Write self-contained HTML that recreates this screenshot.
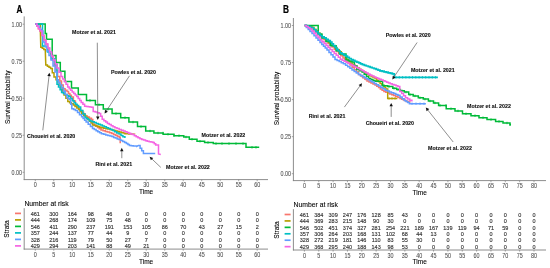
<!DOCTYPE html>
<html><head><meta charset="utf-8"><style>
html,body{margin:0;padding:0;background:#fff;width:550px;height:268px;overflow:hidden}
svg{display:block;font-family:"Liberation Sans", sans-serif;will-change:transform}
</style></head><body>
<svg width="550" height="268" viewBox="0 0 550 268">
<rect width="550" height="268" fill="#fff"/>
<text transform="translate(16.60,12.91) scale(0.92,1.12)" font-size="9.0" text-anchor="start" font-weight="bold" fill="#000" stroke="#000" stroke-width="0.2">A</text>
<line x1="24.20" y1="16.40" x2="24.20" y2="180.05" stroke="#808080" stroke-width="0.9"/>
<line x1="23.75" y1="179.60" x2="268.00" y2="179.60" stroke="#808080" stroke-width="0.9"/>
<line x1="22.60" y1="172.30" x2="24.20" y2="172.30" stroke="#808080" stroke-width="0.7"/>
<text transform="translate(21.90,174.68) scale(1.04,1.28)" font-size="5.2" text-anchor="end" font-weight="normal" fill="#4D4D4D" stroke="#4D4D4D" stroke-width="0.05">0.00</text>
<line x1="22.60" y1="135.28" x2="24.20" y2="135.28" stroke="#808080" stroke-width="0.7"/>
<text transform="translate(21.90,137.66) scale(1.04,1.28)" font-size="5.2" text-anchor="end" font-weight="normal" fill="#4D4D4D" stroke="#4D4D4D" stroke-width="0.05">0.25</text>
<line x1="22.60" y1="98.25" x2="24.20" y2="98.25" stroke="#808080" stroke-width="0.7"/>
<text transform="translate(21.90,100.63) scale(1.04,1.28)" font-size="5.2" text-anchor="end" font-weight="normal" fill="#4D4D4D" stroke="#4D4D4D" stroke-width="0.05">0.50</text>
<line x1="22.60" y1="61.23" x2="24.20" y2="61.23" stroke="#808080" stroke-width="0.7"/>
<text transform="translate(21.90,63.61) scale(1.04,1.28)" font-size="5.2" text-anchor="end" font-weight="normal" fill="#4D4D4D" stroke="#4D4D4D" stroke-width="0.05">0.75</text>
<line x1="22.60" y1="24.20" x2="24.20" y2="24.20" stroke="#808080" stroke-width="0.7"/>
<text transform="translate(21.90,26.58) scale(1.04,1.28)" font-size="5.2" text-anchor="end" font-weight="normal" fill="#4D4D4D" stroke="#4D4D4D" stroke-width="0.05">1.00</text>
<line x1="35.30" y1="179.60" x2="35.30" y2="181.20" stroke="#808080" stroke-width="0.7"/>
<text transform="translate(35.30,186.88) scale(1.04,1.28)" font-size="5.2" text-anchor="middle" font-weight="normal" fill="#4D4D4D" stroke="#4D4D4D" stroke-width="0.05">0</text>
<line x1="53.79" y1="179.60" x2="53.79" y2="181.20" stroke="#808080" stroke-width="0.7"/>
<text transform="translate(53.79,186.88) scale(1.04,1.28)" font-size="5.2" text-anchor="middle" font-weight="normal" fill="#4D4D4D" stroke="#4D4D4D" stroke-width="0.05">5</text>
<line x1="72.28" y1="179.60" x2="72.28" y2="181.20" stroke="#808080" stroke-width="0.7"/>
<text transform="translate(72.28,186.88) scale(1.04,1.28)" font-size="5.2" text-anchor="middle" font-weight="normal" fill="#4D4D4D" stroke="#4D4D4D" stroke-width="0.05">10</text>
<line x1="90.77" y1="179.60" x2="90.77" y2="181.20" stroke="#808080" stroke-width="0.7"/>
<text transform="translate(90.77,186.88) scale(1.04,1.28)" font-size="5.2" text-anchor="middle" font-weight="normal" fill="#4D4D4D" stroke="#4D4D4D" stroke-width="0.05">15</text>
<line x1="109.26" y1="179.60" x2="109.26" y2="181.20" stroke="#808080" stroke-width="0.7"/>
<text transform="translate(109.26,186.88) scale(1.04,1.28)" font-size="5.2" text-anchor="middle" font-weight="normal" fill="#4D4D4D" stroke="#4D4D4D" stroke-width="0.05">20</text>
<line x1="127.75" y1="179.60" x2="127.75" y2="181.20" stroke="#808080" stroke-width="0.7"/>
<text transform="translate(127.75,186.88) scale(1.04,1.28)" font-size="5.2" text-anchor="middle" font-weight="normal" fill="#4D4D4D" stroke="#4D4D4D" stroke-width="0.05">25</text>
<line x1="146.24" y1="179.60" x2="146.24" y2="181.20" stroke="#808080" stroke-width="0.7"/>
<text transform="translate(146.24,186.88) scale(1.04,1.28)" font-size="5.2" text-anchor="middle" font-weight="normal" fill="#4D4D4D" stroke="#4D4D4D" stroke-width="0.05">30</text>
<line x1="164.73" y1="179.60" x2="164.73" y2="181.20" stroke="#808080" stroke-width="0.7"/>
<text transform="translate(164.73,186.88) scale(1.04,1.28)" font-size="5.2" text-anchor="middle" font-weight="normal" fill="#4D4D4D" stroke="#4D4D4D" stroke-width="0.05">35</text>
<line x1="183.22" y1="179.60" x2="183.22" y2="181.20" stroke="#808080" stroke-width="0.7"/>
<text transform="translate(183.22,186.88) scale(1.04,1.28)" font-size="5.2" text-anchor="middle" font-weight="normal" fill="#4D4D4D" stroke="#4D4D4D" stroke-width="0.05">40</text>
<line x1="201.71" y1="179.60" x2="201.71" y2="181.20" stroke="#808080" stroke-width="0.7"/>
<text transform="translate(201.71,186.88) scale(1.04,1.28)" font-size="5.2" text-anchor="middle" font-weight="normal" fill="#4D4D4D" stroke="#4D4D4D" stroke-width="0.05">45</text>
<line x1="220.20" y1="179.60" x2="220.20" y2="181.20" stroke="#808080" stroke-width="0.7"/>
<text transform="translate(220.20,186.88) scale(1.04,1.28)" font-size="5.2" text-anchor="middle" font-weight="normal" fill="#4D4D4D" stroke="#4D4D4D" stroke-width="0.05">50</text>
<line x1="238.69" y1="179.60" x2="238.69" y2="181.20" stroke="#808080" stroke-width="0.7"/>
<text transform="translate(238.69,186.88) scale(1.04,1.28)" font-size="5.2" text-anchor="middle" font-weight="normal" fill="#4D4D4D" stroke="#4D4D4D" stroke-width="0.05">55</text>
<line x1="257.18" y1="179.60" x2="257.18" y2="181.20" stroke="#808080" stroke-width="0.7"/>
<text transform="translate(257.18,186.88) scale(1.04,1.28)" font-size="5.2" text-anchor="middle" font-weight="normal" fill="#4D4D4D" stroke="#4D4D4D" stroke-width="0.05">60</text>
<text transform="translate(146.10,194.16) scale(1.085,1.19)" font-size="6.0" text-anchor="middle" font-weight="normal" fill="#000" stroke="#000" stroke-width="0.08">Time</text>
<text transform="translate(9.86,97.30) rotate(-90) scale(1.06,1.19)" font-size="6.0" text-anchor="middle" font-weight="normal" fill="#000" stroke="#000" stroke-width="0.08">Survival probability</text>
<text transform="translate(24.40,205.59) scale(1.066,1.087)" font-size="6.4" text-anchor="start" font-weight="normal" fill="#000" stroke="#000" stroke-width="0.08">Number at risk</text>
<line x1="24.20" y1="208.20" x2="24.20" y2="249.55" stroke="#808080" stroke-width="0.9"/>
<line x1="23.75" y1="249.10" x2="268.00" y2="249.10" stroke="#808080" stroke-width="0.9"/>
<line x1="35.30" y1="249.10" x2="35.30" y2="250.70" stroke="#808080" stroke-width="0.7"/>
<text transform="translate(35.30,256.88) scale(1.04,1.28)" font-size="5.2" text-anchor="middle" font-weight="normal" fill="#4D4D4D" stroke="#4D4D4D" stroke-width="0.05">0</text>
<line x1="53.79" y1="249.10" x2="53.79" y2="250.70" stroke="#808080" stroke-width="0.7"/>
<text transform="translate(53.79,256.88) scale(1.04,1.28)" font-size="5.2" text-anchor="middle" font-weight="normal" fill="#4D4D4D" stroke="#4D4D4D" stroke-width="0.05">5</text>
<line x1="72.28" y1="249.10" x2="72.28" y2="250.70" stroke="#808080" stroke-width="0.7"/>
<text transform="translate(72.28,256.88) scale(1.04,1.28)" font-size="5.2" text-anchor="middle" font-weight="normal" fill="#4D4D4D" stroke="#4D4D4D" stroke-width="0.05">10</text>
<line x1="90.77" y1="249.10" x2="90.77" y2="250.70" stroke="#808080" stroke-width="0.7"/>
<text transform="translate(90.77,256.88) scale(1.04,1.28)" font-size="5.2" text-anchor="middle" font-weight="normal" fill="#4D4D4D" stroke="#4D4D4D" stroke-width="0.05">15</text>
<line x1="109.26" y1="249.10" x2="109.26" y2="250.70" stroke="#808080" stroke-width="0.7"/>
<text transform="translate(109.26,256.88) scale(1.04,1.28)" font-size="5.2" text-anchor="middle" font-weight="normal" fill="#4D4D4D" stroke="#4D4D4D" stroke-width="0.05">20</text>
<line x1="127.75" y1="249.10" x2="127.75" y2="250.70" stroke="#808080" stroke-width="0.7"/>
<text transform="translate(127.75,256.88) scale(1.04,1.28)" font-size="5.2" text-anchor="middle" font-weight="normal" fill="#4D4D4D" stroke="#4D4D4D" stroke-width="0.05">25</text>
<line x1="146.24" y1="249.10" x2="146.24" y2="250.70" stroke="#808080" stroke-width="0.7"/>
<text transform="translate(146.24,256.88) scale(1.04,1.28)" font-size="5.2" text-anchor="middle" font-weight="normal" fill="#4D4D4D" stroke="#4D4D4D" stroke-width="0.05">30</text>
<line x1="164.73" y1="249.10" x2="164.73" y2="250.70" stroke="#808080" stroke-width="0.7"/>
<text transform="translate(164.73,256.88) scale(1.04,1.28)" font-size="5.2" text-anchor="middle" font-weight="normal" fill="#4D4D4D" stroke="#4D4D4D" stroke-width="0.05">35</text>
<line x1="183.22" y1="249.10" x2="183.22" y2="250.70" stroke="#808080" stroke-width="0.7"/>
<text transform="translate(183.22,256.88) scale(1.04,1.28)" font-size="5.2" text-anchor="middle" font-weight="normal" fill="#4D4D4D" stroke="#4D4D4D" stroke-width="0.05">40</text>
<line x1="201.71" y1="249.10" x2="201.71" y2="250.70" stroke="#808080" stroke-width="0.7"/>
<text transform="translate(201.71,256.88) scale(1.04,1.28)" font-size="5.2" text-anchor="middle" font-weight="normal" fill="#4D4D4D" stroke="#4D4D4D" stroke-width="0.05">45</text>
<line x1="220.20" y1="249.10" x2="220.20" y2="250.70" stroke="#808080" stroke-width="0.7"/>
<text transform="translate(220.20,256.88) scale(1.04,1.28)" font-size="5.2" text-anchor="middle" font-weight="normal" fill="#4D4D4D" stroke="#4D4D4D" stroke-width="0.05">50</text>
<line x1="238.69" y1="249.10" x2="238.69" y2="250.70" stroke="#808080" stroke-width="0.7"/>
<text transform="translate(238.69,256.88) scale(1.04,1.28)" font-size="5.2" text-anchor="middle" font-weight="normal" fill="#4D4D4D" stroke="#4D4D4D" stroke-width="0.05">55</text>
<line x1="257.18" y1="249.10" x2="257.18" y2="250.70" stroke="#808080" stroke-width="0.7"/>
<text transform="translate(257.18,256.88) scale(1.04,1.28)" font-size="5.2" text-anchor="middle" font-weight="normal" fill="#4D4D4D" stroke="#4D4D4D" stroke-width="0.05">60</text>
<text transform="translate(146.10,264.06) scale(1.085,1.19)" font-size="6.0" text-anchor="middle" font-weight="normal" fill="#000" stroke="#000" stroke-width="0.08">Time</text>
<text transform="translate(35.30,215.55) scale(1.1,1.2)" font-size="5.0" text-anchor="middle" font-weight="normal" fill="#333" stroke="#333" stroke-width="0.12">461</text>
<text transform="translate(53.79,215.55) scale(1.1,1.2)" font-size="5.0" text-anchor="middle" font-weight="normal" fill="#333" stroke="#333" stroke-width="0.12">300</text>
<text transform="translate(72.28,215.55) scale(1.1,1.2)" font-size="5.0" text-anchor="middle" font-weight="normal" fill="#333" stroke="#333" stroke-width="0.12">164</text>
<text transform="translate(90.77,215.55) scale(1.1,1.2)" font-size="5.0" text-anchor="middle" font-weight="normal" fill="#333" stroke="#333" stroke-width="0.12">98</text>
<text transform="translate(109.26,215.55) scale(1.1,1.2)" font-size="5.0" text-anchor="middle" font-weight="normal" fill="#333" stroke="#333" stroke-width="0.12">46</text>
<text transform="translate(127.75,215.55) scale(1.1,1.2)" font-size="5.0" text-anchor="middle" font-weight="normal" fill="#333" stroke="#333" stroke-width="0.12">0</text>
<text transform="translate(146.24,215.55) scale(1.1,1.2)" font-size="5.0" text-anchor="middle" font-weight="normal" fill="#333" stroke="#333" stroke-width="0.12">0</text>
<text transform="translate(164.73,215.55) scale(1.1,1.2)" font-size="5.0" text-anchor="middle" font-weight="normal" fill="#333" stroke="#333" stroke-width="0.12">0</text>
<text transform="translate(183.22,215.55) scale(1.1,1.2)" font-size="5.0" text-anchor="middle" font-weight="normal" fill="#333" stroke="#333" stroke-width="0.12">0</text>
<text transform="translate(201.71,215.55) scale(1.1,1.2)" font-size="5.0" text-anchor="middle" font-weight="normal" fill="#333" stroke="#333" stroke-width="0.12">0</text>
<text transform="translate(220.20,215.55) scale(1.1,1.2)" font-size="5.0" text-anchor="middle" font-weight="normal" fill="#333" stroke="#333" stroke-width="0.12">0</text>
<text transform="translate(238.69,215.55) scale(1.1,1.2)" font-size="5.0" text-anchor="middle" font-weight="normal" fill="#333" stroke="#333" stroke-width="0.12">0</text>
<text transform="translate(257.18,215.55) scale(1.1,1.2)" font-size="5.0" text-anchor="middle" font-weight="normal" fill="#333" stroke="#333" stroke-width="0.12">0</text>
<line x1="15.00" y1="213.40" x2="21.00" y2="213.40" stroke="#F8766D" stroke-width="1.7"/>
<text transform="translate(35.30,222.05) scale(1.1,1.2)" font-size="5.0" text-anchor="middle" font-weight="normal" fill="#333" stroke="#333" stroke-width="0.12">444</text>
<text transform="translate(53.79,222.05) scale(1.1,1.2)" font-size="5.0" text-anchor="middle" font-weight="normal" fill="#333" stroke="#333" stroke-width="0.12">268</text>
<text transform="translate(72.28,222.05) scale(1.1,1.2)" font-size="5.0" text-anchor="middle" font-weight="normal" fill="#333" stroke="#333" stroke-width="0.12">174</text>
<text transform="translate(90.77,222.05) scale(1.1,1.2)" font-size="5.0" text-anchor="middle" font-weight="normal" fill="#333" stroke="#333" stroke-width="0.12">109</text>
<text transform="translate(109.26,222.05) scale(1.1,1.2)" font-size="5.0" text-anchor="middle" font-weight="normal" fill="#333" stroke="#333" stroke-width="0.12">75</text>
<text transform="translate(127.75,222.05) scale(1.1,1.2)" font-size="5.0" text-anchor="middle" font-weight="normal" fill="#333" stroke="#333" stroke-width="0.12">48</text>
<text transform="translate(146.24,222.05) scale(1.1,1.2)" font-size="5.0" text-anchor="middle" font-weight="normal" fill="#333" stroke="#333" stroke-width="0.12">0</text>
<text transform="translate(164.73,222.05) scale(1.1,1.2)" font-size="5.0" text-anchor="middle" font-weight="normal" fill="#333" stroke="#333" stroke-width="0.12">0</text>
<text transform="translate(183.22,222.05) scale(1.1,1.2)" font-size="5.0" text-anchor="middle" font-weight="normal" fill="#333" stroke="#333" stroke-width="0.12">0</text>
<text transform="translate(201.71,222.05) scale(1.1,1.2)" font-size="5.0" text-anchor="middle" font-weight="normal" fill="#333" stroke="#333" stroke-width="0.12">0</text>
<text transform="translate(220.20,222.05) scale(1.1,1.2)" font-size="5.0" text-anchor="middle" font-weight="normal" fill="#333" stroke="#333" stroke-width="0.12">0</text>
<text transform="translate(238.69,222.05) scale(1.1,1.2)" font-size="5.0" text-anchor="middle" font-weight="normal" fill="#333" stroke="#333" stroke-width="0.12">0</text>
<text transform="translate(257.18,222.05) scale(1.1,1.2)" font-size="5.0" text-anchor="middle" font-weight="normal" fill="#333" stroke="#333" stroke-width="0.12">0</text>
<line x1="15.00" y1="219.90" x2="21.00" y2="219.90" stroke="#B79F00" stroke-width="1.7"/>
<text transform="translate(35.30,228.55) scale(1.1,1.2)" font-size="5.0" text-anchor="middle" font-weight="normal" fill="#333" stroke="#333" stroke-width="0.12">546</text>
<text transform="translate(53.79,228.55) scale(1.1,1.2)" font-size="5.0" text-anchor="middle" font-weight="normal" fill="#333" stroke="#333" stroke-width="0.12">411</text>
<text transform="translate(72.28,228.55) scale(1.1,1.2)" font-size="5.0" text-anchor="middle" font-weight="normal" fill="#333" stroke="#333" stroke-width="0.12">290</text>
<text transform="translate(90.77,228.55) scale(1.1,1.2)" font-size="5.0" text-anchor="middle" font-weight="normal" fill="#333" stroke="#333" stroke-width="0.12">237</text>
<text transform="translate(109.26,228.55) scale(1.1,1.2)" font-size="5.0" text-anchor="middle" font-weight="normal" fill="#333" stroke="#333" stroke-width="0.12">191</text>
<text transform="translate(127.75,228.55) scale(1.1,1.2)" font-size="5.0" text-anchor="middle" font-weight="normal" fill="#333" stroke="#333" stroke-width="0.12">153</text>
<text transform="translate(146.24,228.55) scale(1.1,1.2)" font-size="5.0" text-anchor="middle" font-weight="normal" fill="#333" stroke="#333" stroke-width="0.12">105</text>
<text transform="translate(164.73,228.55) scale(1.1,1.2)" font-size="5.0" text-anchor="middle" font-weight="normal" fill="#333" stroke="#333" stroke-width="0.12">86</text>
<text transform="translate(183.22,228.55) scale(1.1,1.2)" font-size="5.0" text-anchor="middle" font-weight="normal" fill="#333" stroke="#333" stroke-width="0.12">70</text>
<text transform="translate(201.71,228.55) scale(1.1,1.2)" font-size="5.0" text-anchor="middle" font-weight="normal" fill="#333" stroke="#333" stroke-width="0.12">43</text>
<text transform="translate(220.20,228.55) scale(1.1,1.2)" font-size="5.0" text-anchor="middle" font-weight="normal" fill="#333" stroke="#333" stroke-width="0.12">27</text>
<text transform="translate(238.69,228.55) scale(1.1,1.2)" font-size="5.0" text-anchor="middle" font-weight="normal" fill="#333" stroke="#333" stroke-width="0.12">15</text>
<text transform="translate(257.18,228.55) scale(1.1,1.2)" font-size="5.0" text-anchor="middle" font-weight="normal" fill="#333" stroke="#333" stroke-width="0.12">2</text>
<line x1="15.00" y1="226.40" x2="21.00" y2="226.40" stroke="#00BA38" stroke-width="1.7"/>
<text transform="translate(35.30,235.05) scale(1.1,1.2)" font-size="5.0" text-anchor="middle" font-weight="normal" fill="#333" stroke="#333" stroke-width="0.12">357</text>
<text transform="translate(53.79,235.05) scale(1.1,1.2)" font-size="5.0" text-anchor="middle" font-weight="normal" fill="#333" stroke="#333" stroke-width="0.12">244</text>
<text transform="translate(72.28,235.05) scale(1.1,1.2)" font-size="5.0" text-anchor="middle" font-weight="normal" fill="#333" stroke="#333" stroke-width="0.12">137</text>
<text transform="translate(90.77,235.05) scale(1.1,1.2)" font-size="5.0" text-anchor="middle" font-weight="normal" fill="#333" stroke="#333" stroke-width="0.12">77</text>
<text transform="translate(109.26,235.05) scale(1.1,1.2)" font-size="5.0" text-anchor="middle" font-weight="normal" fill="#333" stroke="#333" stroke-width="0.12">44</text>
<text transform="translate(127.75,235.05) scale(1.1,1.2)" font-size="5.0" text-anchor="middle" font-weight="normal" fill="#333" stroke="#333" stroke-width="0.12">9</text>
<text transform="translate(146.24,235.05) scale(1.1,1.2)" font-size="5.0" text-anchor="middle" font-weight="normal" fill="#333" stroke="#333" stroke-width="0.12">0</text>
<text transform="translate(164.73,235.05) scale(1.1,1.2)" font-size="5.0" text-anchor="middle" font-weight="normal" fill="#333" stroke="#333" stroke-width="0.12">0</text>
<text transform="translate(183.22,235.05) scale(1.1,1.2)" font-size="5.0" text-anchor="middle" font-weight="normal" fill="#333" stroke="#333" stroke-width="0.12">0</text>
<text transform="translate(201.71,235.05) scale(1.1,1.2)" font-size="5.0" text-anchor="middle" font-weight="normal" fill="#333" stroke="#333" stroke-width="0.12">0</text>
<text transform="translate(220.20,235.05) scale(1.1,1.2)" font-size="5.0" text-anchor="middle" font-weight="normal" fill="#333" stroke="#333" stroke-width="0.12">0</text>
<text transform="translate(238.69,235.05) scale(1.1,1.2)" font-size="5.0" text-anchor="middle" font-weight="normal" fill="#333" stroke="#333" stroke-width="0.12">0</text>
<text transform="translate(257.18,235.05) scale(1.1,1.2)" font-size="5.0" text-anchor="middle" font-weight="normal" fill="#333" stroke="#333" stroke-width="0.12">0</text>
<line x1="15.00" y1="232.90" x2="21.00" y2="232.90" stroke="#00BFC4" stroke-width="1.7"/>
<text transform="translate(35.30,241.55) scale(1.1,1.2)" font-size="5.0" text-anchor="middle" font-weight="normal" fill="#333" stroke="#333" stroke-width="0.12">328</text>
<text transform="translate(53.79,241.55) scale(1.1,1.2)" font-size="5.0" text-anchor="middle" font-weight="normal" fill="#333" stroke="#333" stroke-width="0.12">216</text>
<text transform="translate(72.28,241.55) scale(1.1,1.2)" font-size="5.0" text-anchor="middle" font-weight="normal" fill="#333" stroke="#333" stroke-width="0.12">119</text>
<text transform="translate(90.77,241.55) scale(1.1,1.2)" font-size="5.0" text-anchor="middle" font-weight="normal" fill="#333" stroke="#333" stroke-width="0.12">79</text>
<text transform="translate(109.26,241.55) scale(1.1,1.2)" font-size="5.0" text-anchor="middle" font-weight="normal" fill="#333" stroke="#333" stroke-width="0.12">50</text>
<text transform="translate(127.75,241.55) scale(1.1,1.2)" font-size="5.0" text-anchor="middle" font-weight="normal" fill="#333" stroke="#333" stroke-width="0.12">27</text>
<text transform="translate(146.24,241.55) scale(1.1,1.2)" font-size="5.0" text-anchor="middle" font-weight="normal" fill="#333" stroke="#333" stroke-width="0.12">7</text>
<text transform="translate(164.73,241.55) scale(1.1,1.2)" font-size="5.0" text-anchor="middle" font-weight="normal" fill="#333" stroke="#333" stroke-width="0.12">0</text>
<text transform="translate(183.22,241.55) scale(1.1,1.2)" font-size="5.0" text-anchor="middle" font-weight="normal" fill="#333" stroke="#333" stroke-width="0.12">0</text>
<text transform="translate(201.71,241.55) scale(1.1,1.2)" font-size="5.0" text-anchor="middle" font-weight="normal" fill="#333" stroke="#333" stroke-width="0.12">0</text>
<text transform="translate(220.20,241.55) scale(1.1,1.2)" font-size="5.0" text-anchor="middle" font-weight="normal" fill="#333" stroke="#333" stroke-width="0.12">0</text>
<text transform="translate(238.69,241.55) scale(1.1,1.2)" font-size="5.0" text-anchor="middle" font-weight="normal" fill="#333" stroke="#333" stroke-width="0.12">0</text>
<text transform="translate(257.18,241.55) scale(1.1,1.2)" font-size="5.0" text-anchor="middle" font-weight="normal" fill="#333" stroke="#333" stroke-width="0.12">0</text>
<line x1="15.00" y1="239.40" x2="21.00" y2="239.40" stroke="#619CFF" stroke-width="1.7"/>
<text transform="translate(35.30,248.05) scale(1.1,1.2)" font-size="5.0" text-anchor="middle" font-weight="normal" fill="#333" stroke="#333" stroke-width="0.12">429</text>
<text transform="translate(53.79,248.05) scale(1.1,1.2)" font-size="5.0" text-anchor="middle" font-weight="normal" fill="#333" stroke="#333" stroke-width="0.12">294</text>
<text transform="translate(72.28,248.05) scale(1.1,1.2)" font-size="5.0" text-anchor="middle" font-weight="normal" fill="#333" stroke="#333" stroke-width="0.12">203</text>
<text transform="translate(90.77,248.05) scale(1.1,1.2)" font-size="5.0" text-anchor="middle" font-weight="normal" fill="#333" stroke="#333" stroke-width="0.12">141</text>
<text transform="translate(109.26,248.05) scale(1.1,1.2)" font-size="5.0" text-anchor="middle" font-weight="normal" fill="#333" stroke="#333" stroke-width="0.12">88</text>
<text transform="translate(127.75,248.05) scale(1.1,1.2)" font-size="5.0" text-anchor="middle" font-weight="normal" fill="#333" stroke="#333" stroke-width="0.12">49</text>
<text transform="translate(146.24,248.05) scale(1.1,1.2)" font-size="5.0" text-anchor="middle" font-weight="normal" fill="#333" stroke="#333" stroke-width="0.12">21</text>
<text transform="translate(164.73,248.05) scale(1.1,1.2)" font-size="5.0" text-anchor="middle" font-weight="normal" fill="#333" stroke="#333" stroke-width="0.12">0</text>
<text transform="translate(183.22,248.05) scale(1.1,1.2)" font-size="5.0" text-anchor="middle" font-weight="normal" fill="#333" stroke="#333" stroke-width="0.12">0</text>
<text transform="translate(201.71,248.05) scale(1.1,1.2)" font-size="5.0" text-anchor="middle" font-weight="normal" fill="#333" stroke="#333" stroke-width="0.12">0</text>
<text transform="translate(220.20,248.05) scale(1.1,1.2)" font-size="5.0" text-anchor="middle" font-weight="normal" fill="#333" stroke="#333" stroke-width="0.12">0</text>
<text transform="translate(238.69,248.05) scale(1.1,1.2)" font-size="5.0" text-anchor="middle" font-weight="normal" fill="#333" stroke="#333" stroke-width="0.12">0</text>
<text transform="translate(257.18,248.05) scale(1.1,1.2)" font-size="5.0" text-anchor="middle" font-weight="normal" fill="#333" stroke="#333" stroke-width="0.12">0</text>
<line x1="15.00" y1="245.90" x2="21.00" y2="245.90" stroke="#F564E3" stroke-width="1.7"/>
<text transform="translate(9.26,229.00) rotate(-90) scale(1.085,1.19)" font-size="6.0" text-anchor="middle" font-weight="normal" fill="#000" stroke="#000" stroke-width="0.08">Strata</text>
<text transform="translate(283.10,12.91) scale(0.92,1.12)" font-size="9.0" text-anchor="start" font-weight="bold" fill="#000" stroke="#000" stroke-width="0.2">B</text>
<line x1="293.40" y1="18.00" x2="293.40" y2="181.05" stroke="#808080" stroke-width="0.9"/>
<line x1="292.95" y1="180.60" x2="546.00" y2="180.60" stroke="#808080" stroke-width="0.9"/>
<line x1="291.80" y1="173.70" x2="293.40" y2="173.70" stroke="#808080" stroke-width="0.7"/>
<text transform="translate(291.10,176.08) scale(1.04,1.28)" font-size="5.2" text-anchor="end" font-weight="normal" fill="#4D4D4D" stroke="#4D4D4D" stroke-width="0.05">0.00</text>
<line x1="291.80" y1="136.65" x2="293.40" y2="136.65" stroke="#808080" stroke-width="0.7"/>
<text transform="translate(291.10,139.03) scale(1.04,1.28)" font-size="5.2" text-anchor="end" font-weight="normal" fill="#4D4D4D" stroke="#4D4D4D" stroke-width="0.05">0.25</text>
<line x1="291.80" y1="99.60" x2="293.40" y2="99.60" stroke="#808080" stroke-width="0.7"/>
<text transform="translate(291.10,101.98) scale(1.04,1.28)" font-size="5.2" text-anchor="end" font-weight="normal" fill="#4D4D4D" stroke="#4D4D4D" stroke-width="0.05">0.50</text>
<line x1="291.80" y1="62.55" x2="293.40" y2="62.55" stroke="#808080" stroke-width="0.7"/>
<text transform="translate(291.10,64.93) scale(1.04,1.28)" font-size="5.2" text-anchor="end" font-weight="normal" fill="#4D4D4D" stroke="#4D4D4D" stroke-width="0.05">0.75</text>
<line x1="291.80" y1="25.50" x2="293.40" y2="25.50" stroke="#808080" stroke-width="0.7"/>
<text transform="translate(291.10,27.88) scale(1.04,1.28)" font-size="5.2" text-anchor="end" font-weight="normal" fill="#4D4D4D" stroke="#4D4D4D" stroke-width="0.05">1.00</text>
<line x1="304.40" y1="180.60" x2="304.40" y2="182.20" stroke="#808080" stroke-width="0.7"/>
<text transform="translate(304.40,187.88) scale(1.04,1.28)" font-size="5.2" text-anchor="middle" font-weight="normal" fill="#4D4D4D" stroke="#4D4D4D" stroke-width="0.05">0</text>
<line x1="318.75" y1="180.60" x2="318.75" y2="182.20" stroke="#808080" stroke-width="0.7"/>
<text transform="translate(318.75,187.88) scale(1.04,1.28)" font-size="5.2" text-anchor="middle" font-weight="normal" fill="#4D4D4D" stroke="#4D4D4D" stroke-width="0.05">5</text>
<line x1="333.10" y1="180.60" x2="333.10" y2="182.20" stroke="#808080" stroke-width="0.7"/>
<text transform="translate(333.10,187.88) scale(1.04,1.28)" font-size="5.2" text-anchor="middle" font-weight="normal" fill="#4D4D4D" stroke="#4D4D4D" stroke-width="0.05">10</text>
<line x1="347.45" y1="180.60" x2="347.45" y2="182.20" stroke="#808080" stroke-width="0.7"/>
<text transform="translate(347.45,187.88) scale(1.04,1.28)" font-size="5.2" text-anchor="middle" font-weight="normal" fill="#4D4D4D" stroke="#4D4D4D" stroke-width="0.05">15</text>
<line x1="361.80" y1="180.60" x2="361.80" y2="182.20" stroke="#808080" stroke-width="0.7"/>
<text transform="translate(361.80,187.88) scale(1.04,1.28)" font-size="5.2" text-anchor="middle" font-weight="normal" fill="#4D4D4D" stroke="#4D4D4D" stroke-width="0.05">20</text>
<line x1="376.15" y1="180.60" x2="376.15" y2="182.20" stroke="#808080" stroke-width="0.7"/>
<text transform="translate(376.15,187.88) scale(1.04,1.28)" font-size="5.2" text-anchor="middle" font-weight="normal" fill="#4D4D4D" stroke="#4D4D4D" stroke-width="0.05">25</text>
<line x1="390.50" y1="180.60" x2="390.50" y2="182.20" stroke="#808080" stroke-width="0.7"/>
<text transform="translate(390.50,187.88) scale(1.04,1.28)" font-size="5.2" text-anchor="middle" font-weight="normal" fill="#4D4D4D" stroke="#4D4D4D" stroke-width="0.05">30</text>
<line x1="404.85" y1="180.60" x2="404.85" y2="182.20" stroke="#808080" stroke-width="0.7"/>
<text transform="translate(404.85,187.88) scale(1.04,1.28)" font-size="5.2" text-anchor="middle" font-weight="normal" fill="#4D4D4D" stroke="#4D4D4D" stroke-width="0.05">35</text>
<line x1="419.20" y1="180.60" x2="419.20" y2="182.20" stroke="#808080" stroke-width="0.7"/>
<text transform="translate(419.20,187.88) scale(1.04,1.28)" font-size="5.2" text-anchor="middle" font-weight="normal" fill="#4D4D4D" stroke="#4D4D4D" stroke-width="0.05">40</text>
<line x1="433.55" y1="180.60" x2="433.55" y2="182.20" stroke="#808080" stroke-width="0.7"/>
<text transform="translate(433.55,187.88) scale(1.04,1.28)" font-size="5.2" text-anchor="middle" font-weight="normal" fill="#4D4D4D" stroke="#4D4D4D" stroke-width="0.05">45</text>
<line x1="447.90" y1="180.60" x2="447.90" y2="182.20" stroke="#808080" stroke-width="0.7"/>
<text transform="translate(447.90,187.88) scale(1.04,1.28)" font-size="5.2" text-anchor="middle" font-weight="normal" fill="#4D4D4D" stroke="#4D4D4D" stroke-width="0.05">50</text>
<line x1="462.25" y1="180.60" x2="462.25" y2="182.20" stroke="#808080" stroke-width="0.7"/>
<text transform="translate(462.25,187.88) scale(1.04,1.28)" font-size="5.2" text-anchor="middle" font-weight="normal" fill="#4D4D4D" stroke="#4D4D4D" stroke-width="0.05">55</text>
<line x1="476.60" y1="180.60" x2="476.60" y2="182.20" stroke="#808080" stroke-width="0.7"/>
<text transform="translate(476.60,187.88) scale(1.04,1.28)" font-size="5.2" text-anchor="middle" font-weight="normal" fill="#4D4D4D" stroke="#4D4D4D" stroke-width="0.05">60</text>
<line x1="490.95" y1="180.60" x2="490.95" y2="182.20" stroke="#808080" stroke-width="0.7"/>
<text transform="translate(490.95,187.88) scale(1.04,1.28)" font-size="5.2" text-anchor="middle" font-weight="normal" fill="#4D4D4D" stroke="#4D4D4D" stroke-width="0.05">65</text>
<line x1="505.30" y1="180.60" x2="505.30" y2="182.20" stroke="#808080" stroke-width="0.7"/>
<text transform="translate(505.30,187.88) scale(1.04,1.28)" font-size="5.2" text-anchor="middle" font-weight="normal" fill="#4D4D4D" stroke="#4D4D4D" stroke-width="0.05">70</text>
<line x1="519.65" y1="180.60" x2="519.65" y2="182.20" stroke="#808080" stroke-width="0.7"/>
<text transform="translate(519.65,187.88) scale(1.04,1.28)" font-size="5.2" text-anchor="middle" font-weight="normal" fill="#4D4D4D" stroke="#4D4D4D" stroke-width="0.05">75</text>
<line x1="534.00" y1="180.60" x2="534.00" y2="182.20" stroke="#808080" stroke-width="0.7"/>
<text transform="translate(534.00,187.88) scale(1.04,1.28)" font-size="5.2" text-anchor="middle" font-weight="normal" fill="#4D4D4D" stroke="#4D4D4D" stroke-width="0.05">80</text>
<text transform="translate(419.70,194.56) scale(1.085,1.19)" font-size="6.0" text-anchor="middle" font-weight="normal" fill="#000" stroke="#000" stroke-width="0.08">Time</text>
<text transform="translate(279.26,98.50) rotate(-90) scale(1.06,1.19)" font-size="6.0" text-anchor="middle" font-weight="normal" fill="#000" stroke="#000" stroke-width="0.08">Survival probability</text>
<text transform="translate(293.60,207.09) scale(1.066,1.087)" font-size="6.4" text-anchor="start" font-weight="normal" fill="#000" stroke="#000" stroke-width="0.08">Number at risk</text>
<line x1="293.40" y1="209.20" x2="293.40" y2="250.45" stroke="#808080" stroke-width="0.9"/>
<line x1="292.95" y1="250.00" x2="546.00" y2="250.00" stroke="#808080" stroke-width="0.9"/>
<line x1="304.40" y1="250.00" x2="304.40" y2="251.60" stroke="#808080" stroke-width="0.7"/>
<text transform="translate(304.40,257.68) scale(1.04,1.28)" font-size="5.2" text-anchor="middle" font-weight="normal" fill="#4D4D4D" stroke="#4D4D4D" stroke-width="0.05">0</text>
<line x1="318.75" y1="250.00" x2="318.75" y2="251.60" stroke="#808080" stroke-width="0.7"/>
<text transform="translate(318.75,257.68) scale(1.04,1.28)" font-size="5.2" text-anchor="middle" font-weight="normal" fill="#4D4D4D" stroke="#4D4D4D" stroke-width="0.05">5</text>
<line x1="333.10" y1="250.00" x2="333.10" y2="251.60" stroke="#808080" stroke-width="0.7"/>
<text transform="translate(333.10,257.68) scale(1.04,1.28)" font-size="5.2" text-anchor="middle" font-weight="normal" fill="#4D4D4D" stroke="#4D4D4D" stroke-width="0.05">10</text>
<line x1="347.45" y1="250.00" x2="347.45" y2="251.60" stroke="#808080" stroke-width="0.7"/>
<text transform="translate(347.45,257.68) scale(1.04,1.28)" font-size="5.2" text-anchor="middle" font-weight="normal" fill="#4D4D4D" stroke="#4D4D4D" stroke-width="0.05">15</text>
<line x1="361.80" y1="250.00" x2="361.80" y2="251.60" stroke="#808080" stroke-width="0.7"/>
<text transform="translate(361.80,257.68) scale(1.04,1.28)" font-size="5.2" text-anchor="middle" font-weight="normal" fill="#4D4D4D" stroke="#4D4D4D" stroke-width="0.05">20</text>
<line x1="376.15" y1="250.00" x2="376.15" y2="251.60" stroke="#808080" stroke-width="0.7"/>
<text transform="translate(376.15,257.68) scale(1.04,1.28)" font-size="5.2" text-anchor="middle" font-weight="normal" fill="#4D4D4D" stroke="#4D4D4D" stroke-width="0.05">25</text>
<line x1="390.50" y1="250.00" x2="390.50" y2="251.60" stroke="#808080" stroke-width="0.7"/>
<text transform="translate(390.50,257.68) scale(1.04,1.28)" font-size="5.2" text-anchor="middle" font-weight="normal" fill="#4D4D4D" stroke="#4D4D4D" stroke-width="0.05">30</text>
<line x1="404.85" y1="250.00" x2="404.85" y2="251.60" stroke="#808080" stroke-width="0.7"/>
<text transform="translate(404.85,257.68) scale(1.04,1.28)" font-size="5.2" text-anchor="middle" font-weight="normal" fill="#4D4D4D" stroke="#4D4D4D" stroke-width="0.05">35</text>
<line x1="419.20" y1="250.00" x2="419.20" y2="251.60" stroke="#808080" stroke-width="0.7"/>
<text transform="translate(419.20,257.68) scale(1.04,1.28)" font-size="5.2" text-anchor="middle" font-weight="normal" fill="#4D4D4D" stroke="#4D4D4D" stroke-width="0.05">40</text>
<line x1="433.55" y1="250.00" x2="433.55" y2="251.60" stroke="#808080" stroke-width="0.7"/>
<text transform="translate(433.55,257.68) scale(1.04,1.28)" font-size="5.2" text-anchor="middle" font-weight="normal" fill="#4D4D4D" stroke="#4D4D4D" stroke-width="0.05">45</text>
<line x1="447.90" y1="250.00" x2="447.90" y2="251.60" stroke="#808080" stroke-width="0.7"/>
<text transform="translate(447.90,257.68) scale(1.04,1.28)" font-size="5.2" text-anchor="middle" font-weight="normal" fill="#4D4D4D" stroke="#4D4D4D" stroke-width="0.05">50</text>
<line x1="462.25" y1="250.00" x2="462.25" y2="251.60" stroke="#808080" stroke-width="0.7"/>
<text transform="translate(462.25,257.68) scale(1.04,1.28)" font-size="5.2" text-anchor="middle" font-weight="normal" fill="#4D4D4D" stroke="#4D4D4D" stroke-width="0.05">55</text>
<line x1="476.60" y1="250.00" x2="476.60" y2="251.60" stroke="#808080" stroke-width="0.7"/>
<text transform="translate(476.60,257.68) scale(1.04,1.28)" font-size="5.2" text-anchor="middle" font-weight="normal" fill="#4D4D4D" stroke="#4D4D4D" stroke-width="0.05">60</text>
<line x1="490.95" y1="250.00" x2="490.95" y2="251.60" stroke="#808080" stroke-width="0.7"/>
<text transform="translate(490.95,257.68) scale(1.04,1.28)" font-size="5.2" text-anchor="middle" font-weight="normal" fill="#4D4D4D" stroke="#4D4D4D" stroke-width="0.05">65</text>
<line x1="505.30" y1="250.00" x2="505.30" y2="251.60" stroke="#808080" stroke-width="0.7"/>
<text transform="translate(505.30,257.68) scale(1.04,1.28)" font-size="5.2" text-anchor="middle" font-weight="normal" fill="#4D4D4D" stroke="#4D4D4D" stroke-width="0.05">70</text>
<line x1="519.65" y1="250.00" x2="519.65" y2="251.60" stroke="#808080" stroke-width="0.7"/>
<text transform="translate(519.65,257.68) scale(1.04,1.28)" font-size="5.2" text-anchor="middle" font-weight="normal" fill="#4D4D4D" stroke="#4D4D4D" stroke-width="0.05">75</text>
<line x1="534.00" y1="250.00" x2="534.00" y2="251.60" stroke="#808080" stroke-width="0.7"/>
<text transform="translate(534.00,257.68) scale(1.04,1.28)" font-size="5.2" text-anchor="middle" font-weight="normal" fill="#4D4D4D" stroke="#4D4D4D" stroke-width="0.05">80</text>
<text transform="translate(419.70,264.46) scale(1.085,1.19)" font-size="6.0" text-anchor="middle" font-weight="normal" fill="#000" stroke="#000" stroke-width="0.08">Time</text>
<text transform="translate(304.40,216.65) scale(1.1,1.2)" font-size="5.0" text-anchor="middle" font-weight="normal" fill="#333" stroke="#333" stroke-width="0.12">461</text>
<text transform="translate(318.75,216.65) scale(1.1,1.2)" font-size="5.0" text-anchor="middle" font-weight="normal" fill="#333" stroke="#333" stroke-width="0.12">384</text>
<text transform="translate(333.10,216.65) scale(1.1,1.2)" font-size="5.0" text-anchor="middle" font-weight="normal" fill="#333" stroke="#333" stroke-width="0.12">309</text>
<text transform="translate(347.45,216.65) scale(1.1,1.2)" font-size="5.0" text-anchor="middle" font-weight="normal" fill="#333" stroke="#333" stroke-width="0.12">247</text>
<text transform="translate(361.80,216.65) scale(1.1,1.2)" font-size="5.0" text-anchor="middle" font-weight="normal" fill="#333" stroke="#333" stroke-width="0.12">176</text>
<text transform="translate(376.15,216.65) scale(1.1,1.2)" font-size="5.0" text-anchor="middle" font-weight="normal" fill="#333" stroke="#333" stroke-width="0.12">128</text>
<text transform="translate(390.50,216.65) scale(1.1,1.2)" font-size="5.0" text-anchor="middle" font-weight="normal" fill="#333" stroke="#333" stroke-width="0.12">85</text>
<text transform="translate(404.85,216.65) scale(1.1,1.2)" font-size="5.0" text-anchor="middle" font-weight="normal" fill="#333" stroke="#333" stroke-width="0.12">43</text>
<text transform="translate(419.20,216.65) scale(1.1,1.2)" font-size="5.0" text-anchor="middle" font-weight="normal" fill="#333" stroke="#333" stroke-width="0.12">0</text>
<text transform="translate(433.55,216.65) scale(1.1,1.2)" font-size="5.0" text-anchor="middle" font-weight="normal" fill="#333" stroke="#333" stroke-width="0.12">0</text>
<text transform="translate(447.90,216.65) scale(1.1,1.2)" font-size="5.0" text-anchor="middle" font-weight="normal" fill="#333" stroke="#333" stroke-width="0.12">0</text>
<text transform="translate(462.25,216.65) scale(1.1,1.2)" font-size="5.0" text-anchor="middle" font-weight="normal" fill="#333" stroke="#333" stroke-width="0.12">0</text>
<text transform="translate(476.60,216.65) scale(1.1,1.2)" font-size="5.0" text-anchor="middle" font-weight="normal" fill="#333" stroke="#333" stroke-width="0.12">0</text>
<text transform="translate(490.95,216.65) scale(1.1,1.2)" font-size="5.0" text-anchor="middle" font-weight="normal" fill="#333" stroke="#333" stroke-width="0.12">0</text>
<text transform="translate(505.30,216.65) scale(1.1,1.2)" font-size="5.0" text-anchor="middle" font-weight="normal" fill="#333" stroke="#333" stroke-width="0.12">0</text>
<text transform="translate(519.65,216.65) scale(1.1,1.2)" font-size="5.0" text-anchor="middle" font-weight="normal" fill="#333" stroke="#333" stroke-width="0.12">0</text>
<text transform="translate(534.00,216.65) scale(1.1,1.2)" font-size="5.0" text-anchor="middle" font-weight="normal" fill="#333" stroke="#333" stroke-width="0.12">0</text>
<line x1="284.60" y1="214.50" x2="290.60" y2="214.50" stroke="#F8766D" stroke-width="1.7"/>
<text transform="translate(304.40,223.08) scale(1.1,1.2)" font-size="5.0" text-anchor="middle" font-weight="normal" fill="#333" stroke="#333" stroke-width="0.12">444</text>
<text transform="translate(318.75,223.08) scale(1.1,1.2)" font-size="5.0" text-anchor="middle" font-weight="normal" fill="#333" stroke="#333" stroke-width="0.12">369</text>
<text transform="translate(333.10,223.08) scale(1.1,1.2)" font-size="5.0" text-anchor="middle" font-weight="normal" fill="#333" stroke="#333" stroke-width="0.12">283</text>
<text transform="translate(347.45,223.08) scale(1.1,1.2)" font-size="5.0" text-anchor="middle" font-weight="normal" fill="#333" stroke="#333" stroke-width="0.12">215</text>
<text transform="translate(361.80,223.08) scale(1.1,1.2)" font-size="5.0" text-anchor="middle" font-weight="normal" fill="#333" stroke="#333" stroke-width="0.12">148</text>
<text transform="translate(376.15,223.08) scale(1.1,1.2)" font-size="5.0" text-anchor="middle" font-weight="normal" fill="#333" stroke="#333" stroke-width="0.12">90</text>
<text transform="translate(390.50,223.08) scale(1.1,1.2)" font-size="5.0" text-anchor="middle" font-weight="normal" fill="#333" stroke="#333" stroke-width="0.12">30</text>
<text transform="translate(404.85,223.08) scale(1.1,1.2)" font-size="5.0" text-anchor="middle" font-weight="normal" fill="#333" stroke="#333" stroke-width="0.12">0</text>
<text transform="translate(419.20,223.08) scale(1.1,1.2)" font-size="5.0" text-anchor="middle" font-weight="normal" fill="#333" stroke="#333" stroke-width="0.12">0</text>
<text transform="translate(433.55,223.08) scale(1.1,1.2)" font-size="5.0" text-anchor="middle" font-weight="normal" fill="#333" stroke="#333" stroke-width="0.12">0</text>
<text transform="translate(447.90,223.08) scale(1.1,1.2)" font-size="5.0" text-anchor="middle" font-weight="normal" fill="#333" stroke="#333" stroke-width="0.12">0</text>
<text transform="translate(462.25,223.08) scale(1.1,1.2)" font-size="5.0" text-anchor="middle" font-weight="normal" fill="#333" stroke="#333" stroke-width="0.12">0</text>
<text transform="translate(476.60,223.08) scale(1.1,1.2)" font-size="5.0" text-anchor="middle" font-weight="normal" fill="#333" stroke="#333" stroke-width="0.12">0</text>
<text transform="translate(490.95,223.08) scale(1.1,1.2)" font-size="5.0" text-anchor="middle" font-weight="normal" fill="#333" stroke="#333" stroke-width="0.12">0</text>
<text transform="translate(505.30,223.08) scale(1.1,1.2)" font-size="5.0" text-anchor="middle" font-weight="normal" fill="#333" stroke="#333" stroke-width="0.12">0</text>
<text transform="translate(519.65,223.08) scale(1.1,1.2)" font-size="5.0" text-anchor="middle" font-weight="normal" fill="#333" stroke="#333" stroke-width="0.12">0</text>
<text transform="translate(534.00,223.08) scale(1.1,1.2)" font-size="5.0" text-anchor="middle" font-weight="normal" fill="#333" stroke="#333" stroke-width="0.12">0</text>
<line x1="284.60" y1="220.93" x2="290.60" y2="220.93" stroke="#B79F00" stroke-width="1.7"/>
<text transform="translate(304.40,229.51) scale(1.1,1.2)" font-size="5.0" text-anchor="middle" font-weight="normal" fill="#333" stroke="#333" stroke-width="0.12">546</text>
<text transform="translate(318.75,229.51) scale(1.1,1.2)" font-size="5.0" text-anchor="middle" font-weight="normal" fill="#333" stroke="#333" stroke-width="0.12">502</text>
<text transform="translate(333.10,229.51) scale(1.1,1.2)" font-size="5.0" text-anchor="middle" font-weight="normal" fill="#333" stroke="#333" stroke-width="0.12">451</text>
<text transform="translate(347.45,229.51) scale(1.1,1.2)" font-size="5.0" text-anchor="middle" font-weight="normal" fill="#333" stroke="#333" stroke-width="0.12">374</text>
<text transform="translate(361.80,229.51) scale(1.1,1.2)" font-size="5.0" text-anchor="middle" font-weight="normal" fill="#333" stroke="#333" stroke-width="0.12">327</text>
<text transform="translate(376.15,229.51) scale(1.1,1.2)" font-size="5.0" text-anchor="middle" font-weight="normal" fill="#333" stroke="#333" stroke-width="0.12">281</text>
<text transform="translate(390.50,229.51) scale(1.1,1.2)" font-size="5.0" text-anchor="middle" font-weight="normal" fill="#333" stroke="#333" stroke-width="0.12">254</text>
<text transform="translate(404.85,229.51) scale(1.1,1.2)" font-size="5.0" text-anchor="middle" font-weight="normal" fill="#333" stroke="#333" stroke-width="0.12">221</text>
<text transform="translate(419.20,229.51) scale(1.1,1.2)" font-size="5.0" text-anchor="middle" font-weight="normal" fill="#333" stroke="#333" stroke-width="0.12">189</text>
<text transform="translate(433.55,229.51) scale(1.1,1.2)" font-size="5.0" text-anchor="middle" font-weight="normal" fill="#333" stroke="#333" stroke-width="0.12">167</text>
<text transform="translate(447.90,229.51) scale(1.1,1.2)" font-size="5.0" text-anchor="middle" font-weight="normal" fill="#333" stroke="#333" stroke-width="0.12">139</text>
<text transform="translate(462.25,229.51) scale(1.1,1.2)" font-size="5.0" text-anchor="middle" font-weight="normal" fill="#333" stroke="#333" stroke-width="0.12">119</text>
<text transform="translate(476.60,229.51) scale(1.1,1.2)" font-size="5.0" text-anchor="middle" font-weight="normal" fill="#333" stroke="#333" stroke-width="0.12">94</text>
<text transform="translate(490.95,229.51) scale(1.1,1.2)" font-size="5.0" text-anchor="middle" font-weight="normal" fill="#333" stroke="#333" stroke-width="0.12">71</text>
<text transform="translate(505.30,229.51) scale(1.1,1.2)" font-size="5.0" text-anchor="middle" font-weight="normal" fill="#333" stroke="#333" stroke-width="0.12">59</text>
<text transform="translate(519.65,229.51) scale(1.1,1.2)" font-size="5.0" text-anchor="middle" font-weight="normal" fill="#333" stroke="#333" stroke-width="0.12">0</text>
<text transform="translate(534.00,229.51) scale(1.1,1.2)" font-size="5.0" text-anchor="middle" font-weight="normal" fill="#333" stroke="#333" stroke-width="0.12">0</text>
<line x1="284.60" y1="227.36" x2="290.60" y2="227.36" stroke="#00BA38" stroke-width="1.7"/>
<text transform="translate(304.40,235.94) scale(1.1,1.2)" font-size="5.0" text-anchor="middle" font-weight="normal" fill="#333" stroke="#333" stroke-width="0.12">357</text>
<text transform="translate(318.75,235.94) scale(1.1,1.2)" font-size="5.0" text-anchor="middle" font-weight="normal" fill="#333" stroke="#333" stroke-width="0.12">306</text>
<text transform="translate(333.10,235.94) scale(1.1,1.2)" font-size="5.0" text-anchor="middle" font-weight="normal" fill="#333" stroke="#333" stroke-width="0.12">264</text>
<text transform="translate(347.45,235.94) scale(1.1,1.2)" font-size="5.0" text-anchor="middle" font-weight="normal" fill="#333" stroke="#333" stroke-width="0.12">203</text>
<text transform="translate(361.80,235.94) scale(1.1,1.2)" font-size="5.0" text-anchor="middle" font-weight="normal" fill="#333" stroke="#333" stroke-width="0.12">168</text>
<text transform="translate(376.15,235.94) scale(1.1,1.2)" font-size="5.0" text-anchor="middle" font-weight="normal" fill="#333" stroke="#333" stroke-width="0.12">131</text>
<text transform="translate(390.50,235.94) scale(1.1,1.2)" font-size="5.0" text-anchor="middle" font-weight="normal" fill="#333" stroke="#333" stroke-width="0.12">102</text>
<text transform="translate(404.85,235.94) scale(1.1,1.2)" font-size="5.0" text-anchor="middle" font-weight="normal" fill="#333" stroke="#333" stroke-width="0.12">68</text>
<text transform="translate(419.20,235.94) scale(1.1,1.2)" font-size="5.0" text-anchor="middle" font-weight="normal" fill="#333" stroke="#333" stroke-width="0.12">44</text>
<text transform="translate(433.55,235.94) scale(1.1,1.2)" font-size="5.0" text-anchor="middle" font-weight="normal" fill="#333" stroke="#333" stroke-width="0.12">13</text>
<text transform="translate(447.90,235.94) scale(1.1,1.2)" font-size="5.0" text-anchor="middle" font-weight="normal" fill="#333" stroke="#333" stroke-width="0.12">0</text>
<text transform="translate(462.25,235.94) scale(1.1,1.2)" font-size="5.0" text-anchor="middle" font-weight="normal" fill="#333" stroke="#333" stroke-width="0.12">0</text>
<text transform="translate(476.60,235.94) scale(1.1,1.2)" font-size="5.0" text-anchor="middle" font-weight="normal" fill="#333" stroke="#333" stroke-width="0.12">0</text>
<text transform="translate(490.95,235.94) scale(1.1,1.2)" font-size="5.0" text-anchor="middle" font-weight="normal" fill="#333" stroke="#333" stroke-width="0.12">0</text>
<text transform="translate(505.30,235.94) scale(1.1,1.2)" font-size="5.0" text-anchor="middle" font-weight="normal" fill="#333" stroke="#333" stroke-width="0.12">0</text>
<text transform="translate(519.65,235.94) scale(1.1,1.2)" font-size="5.0" text-anchor="middle" font-weight="normal" fill="#333" stroke="#333" stroke-width="0.12">0</text>
<text transform="translate(534.00,235.94) scale(1.1,1.2)" font-size="5.0" text-anchor="middle" font-weight="normal" fill="#333" stroke="#333" stroke-width="0.12">0</text>
<line x1="284.60" y1="233.79" x2="290.60" y2="233.79" stroke="#00BFC4" stroke-width="1.7"/>
<text transform="translate(304.40,242.37) scale(1.1,1.2)" font-size="5.0" text-anchor="middle" font-weight="normal" fill="#333" stroke="#333" stroke-width="0.12">328</text>
<text transform="translate(318.75,242.37) scale(1.1,1.2)" font-size="5.0" text-anchor="middle" font-weight="normal" fill="#333" stroke="#333" stroke-width="0.12">272</text>
<text transform="translate(333.10,242.37) scale(1.1,1.2)" font-size="5.0" text-anchor="middle" font-weight="normal" fill="#333" stroke="#333" stroke-width="0.12">219</text>
<text transform="translate(347.45,242.37) scale(1.1,1.2)" font-size="5.0" text-anchor="middle" font-weight="normal" fill="#333" stroke="#333" stroke-width="0.12">181</text>
<text transform="translate(361.80,242.37) scale(1.1,1.2)" font-size="5.0" text-anchor="middle" font-weight="normal" fill="#333" stroke="#333" stroke-width="0.12">146</text>
<text transform="translate(376.15,242.37) scale(1.1,1.2)" font-size="5.0" text-anchor="middle" font-weight="normal" fill="#333" stroke="#333" stroke-width="0.12">110</text>
<text transform="translate(390.50,242.37) scale(1.1,1.2)" font-size="5.0" text-anchor="middle" font-weight="normal" fill="#333" stroke="#333" stroke-width="0.12">83</text>
<text transform="translate(404.85,242.37) scale(1.1,1.2)" font-size="5.0" text-anchor="middle" font-weight="normal" fill="#333" stroke="#333" stroke-width="0.12">55</text>
<text transform="translate(419.20,242.37) scale(1.1,1.2)" font-size="5.0" text-anchor="middle" font-weight="normal" fill="#333" stroke="#333" stroke-width="0.12">30</text>
<text transform="translate(433.55,242.37) scale(1.1,1.2)" font-size="5.0" text-anchor="middle" font-weight="normal" fill="#333" stroke="#333" stroke-width="0.12">0</text>
<text transform="translate(447.90,242.37) scale(1.1,1.2)" font-size="5.0" text-anchor="middle" font-weight="normal" fill="#333" stroke="#333" stroke-width="0.12">0</text>
<text transform="translate(462.25,242.37) scale(1.1,1.2)" font-size="5.0" text-anchor="middle" font-weight="normal" fill="#333" stroke="#333" stroke-width="0.12">0</text>
<text transform="translate(476.60,242.37) scale(1.1,1.2)" font-size="5.0" text-anchor="middle" font-weight="normal" fill="#333" stroke="#333" stroke-width="0.12">0</text>
<text transform="translate(490.95,242.37) scale(1.1,1.2)" font-size="5.0" text-anchor="middle" font-weight="normal" fill="#333" stroke="#333" stroke-width="0.12">0</text>
<text transform="translate(505.30,242.37) scale(1.1,1.2)" font-size="5.0" text-anchor="middle" font-weight="normal" fill="#333" stroke="#333" stroke-width="0.12">0</text>
<text transform="translate(519.65,242.37) scale(1.1,1.2)" font-size="5.0" text-anchor="middle" font-weight="normal" fill="#333" stroke="#333" stroke-width="0.12">0</text>
<text transform="translate(534.00,242.37) scale(1.1,1.2)" font-size="5.0" text-anchor="middle" font-weight="normal" fill="#333" stroke="#333" stroke-width="0.12">0</text>
<line x1="284.60" y1="240.22" x2="290.60" y2="240.22" stroke="#619CFF" stroke-width="1.7"/>
<text transform="translate(304.40,248.80) scale(1.1,1.2)" font-size="5.0" text-anchor="middle" font-weight="normal" fill="#333" stroke="#333" stroke-width="0.12">429</text>
<text transform="translate(318.75,248.80) scale(1.1,1.2)" font-size="5.0" text-anchor="middle" font-weight="normal" fill="#333" stroke="#333" stroke-width="0.12">368</text>
<text transform="translate(333.10,248.80) scale(1.1,1.2)" font-size="5.0" text-anchor="middle" font-weight="normal" fill="#333" stroke="#333" stroke-width="0.12">295</text>
<text transform="translate(347.45,248.80) scale(1.1,1.2)" font-size="5.0" text-anchor="middle" font-weight="normal" fill="#333" stroke="#333" stroke-width="0.12">240</text>
<text transform="translate(361.80,248.80) scale(1.1,1.2)" font-size="5.0" text-anchor="middle" font-weight="normal" fill="#333" stroke="#333" stroke-width="0.12">188</text>
<text transform="translate(376.15,248.80) scale(1.1,1.2)" font-size="5.0" text-anchor="middle" font-weight="normal" fill="#333" stroke="#333" stroke-width="0.12">143</text>
<text transform="translate(390.50,248.80) scale(1.1,1.2)" font-size="5.0" text-anchor="middle" font-weight="normal" fill="#333" stroke="#333" stroke-width="0.12">98</text>
<text transform="translate(404.85,248.80) scale(1.1,1.2)" font-size="5.0" text-anchor="middle" font-weight="normal" fill="#333" stroke="#333" stroke-width="0.12">53</text>
<text transform="translate(419.20,248.80) scale(1.1,1.2)" font-size="5.0" text-anchor="middle" font-weight="normal" fill="#333" stroke="#333" stroke-width="0.12">0</text>
<text transform="translate(433.55,248.80) scale(1.1,1.2)" font-size="5.0" text-anchor="middle" font-weight="normal" fill="#333" stroke="#333" stroke-width="0.12">0</text>
<text transform="translate(447.90,248.80) scale(1.1,1.2)" font-size="5.0" text-anchor="middle" font-weight="normal" fill="#333" stroke="#333" stroke-width="0.12">0</text>
<text transform="translate(462.25,248.80) scale(1.1,1.2)" font-size="5.0" text-anchor="middle" font-weight="normal" fill="#333" stroke="#333" stroke-width="0.12">0</text>
<text transform="translate(476.60,248.80) scale(1.1,1.2)" font-size="5.0" text-anchor="middle" font-weight="normal" fill="#333" stroke="#333" stroke-width="0.12">0</text>
<text transform="translate(490.95,248.80) scale(1.1,1.2)" font-size="5.0" text-anchor="middle" font-weight="normal" fill="#333" stroke="#333" stroke-width="0.12">0</text>
<text transform="translate(505.30,248.80) scale(1.1,1.2)" font-size="5.0" text-anchor="middle" font-weight="normal" fill="#333" stroke="#333" stroke-width="0.12">0</text>
<text transform="translate(519.65,248.80) scale(1.1,1.2)" font-size="5.0" text-anchor="middle" font-weight="normal" fill="#333" stroke="#333" stroke-width="0.12">0</text>
<text transform="translate(534.00,248.80) scale(1.1,1.2)" font-size="5.0" text-anchor="middle" font-weight="normal" fill="#333" stroke="#333" stroke-width="0.12">0</text>
<line x1="284.60" y1="246.65" x2="290.60" y2="246.65" stroke="#F564E3" stroke-width="1.7"/>
<text transform="translate(278.96,230.00) rotate(-90) scale(1.085,1.19)" font-size="6.0" text-anchor="middle" font-weight="normal" fill="#000" stroke="#000" stroke-width="0.08">Strata</text>
<polyline points="35.3,24.0 36.9,24.0 36.9,26.3 38.4,26.3 38.4,28.7 40.0,28.7 40.0,31.0 42.0,31.0 42.0,35.5 44.0,35.5 44.0,40.0 45.7,40.0 45.7,44.0 47.3,44.0 47.3,48.0 49.0,48.0 49.0,52.0 50.8,52.0 50.8,56.0 52.5,56.0 52.5,60.0 54.2,60.0 54.2,65.5 55.9,65.5 55.9,71.0 57.6,71.0 57.6,76.5 59.8,76.5 59.8,81.0 61.5,81.0 61.5,84.9 63.2,84.9 63.2,88.8 65.1,88.8 65.1,90.2 67.0,90.2 67.0,91.6 68.5,91.6 68.5,93.4 69.9,93.4 69.9,95.2 71.4,95.2 71.4,97.0 73.4,97.0 73.4,101.0 75.4,101.0 75.4,105.0 77.1,105.0 77.1,106.8 78.7,106.8 78.7,108.6 80.4,108.6 80.4,110.4 82.0,110.4 82.0,112.2 83.6,112.2 83.6,114.1 85.2,114.1 85.2,115.9 87.3,115.9 87.3,117.1 89.4,117.1 89.4,118.3 91.5,118.3 91.5,119.5 92.8,119.5 92.8,122.2 94.0,122.2 94.0,125.0 95.8,125.0 95.8,126.2 97.5,126.2 97.5,127.5 99.2,127.5 99.2,128.8 101.0,128.8 101.0,130.0 103.1,130.0 103.1,130.7 105.3,130.7 105.3,131.4 107.4,131.4 107.4,132.1 109.6,132.1 109.6,132.8 111.7,132.8 111.7,133.5 113.6,133.5 113.6,134.4 115.5,134.4 115.5,135.3 117.3,135.3 117.3,136.3 119.2,136.3 119.2,137.2 120.2,137.2 120.2,143.2" fill="none" stroke="#F8766D" stroke-width="1.5" stroke-linejoin="miter" />
<polyline points="35.3,24.0 38.5,24.3 40.3,24.3 40.3,29.0 40.8,47.2 42.3,47.2 42.3,48.3 43.8,48.3 43.8,49.4 45.3,49.4 45.3,50.5 45.8,65.0 47.4,65.0 47.4,66.2 49.0,66.2 49.0,67.3 50.6,67.3 50.6,68.5 52.3,68.5 52.3,72.8 54.0,72.8 54.0,77.0 56.0,77.0 56.0,79.8 58.0,79.8 58.0,82.5 59.5,82.5 59.5,85.2 61.0,85.2 61.0,88.0 62.5,88.0 62.5,91.5 64.0,91.5 64.0,95.0 65.9,95.0 65.9,98.2 67.8,98.2 67.8,101.5 69.6,101.5 69.6,102.7 71.4,102.7 71.4,103.8 73.2,103.8 73.2,105.0 75.0,105.0 75.0,106.5 76.8,106.5 76.8,108.0 78.6,108.0 78.6,109.5 80.1,109.5 80.1,111.6 81.6,111.6 81.6,113.7 83.7,113.7 83.7,115.6 85.8,115.6 85.8,117.6 87.9,117.6 87.9,119.5 89.4,119.5 89.4,121.3 91.0,121.3 91.0,123.1 92.5,123.1 92.5,124.9 94.3,124.9 94.3,125.5 96.1,125.5 96.1,126.1 97.8,126.1 97.8,126.6 99.6,126.6 99.6,127.2 101.4,127.2 101.4,127.8 103.6,127.8 103.6,128.2 105.7,128.2 105.7,128.7 107.8,128.7 107.8,129.1 110.0,129.1 110.0,129.5 111.9,129.5 111.9,130.0 113.8,130.0 113.8,130.4 115.6,130.4 115.6,130.9 117.5,130.9 117.5,131.4 119.3,131.4 119.3,132.0 121.2,132.0 121.2,132.6 123.1,132.6 123.1,133.1 124.9,133.1 124.9,133.7 126.8,133.7 126.8,133.8 128.8,133.8 128.8,134.0 130.7,134.0 130.7,134.1 132.7,134.1 132.7,134.3 134.6,134.3 134.6,134.4" fill="none" stroke="#B79F00" stroke-width="1.5" stroke-linejoin="miter" />
<polyline points="35.3,24.0 45.2,24.0 45.2,33.4 46.5,33.4 46.5,39.2 52.2,39.2 52.2,55.5 56.0,55.5 56.0,62.4 60.3,62.4 60.3,71.2 64.9,71.2 64.9,81.6 71.5,81.6 71.5,88.0 78.3,88.0 78.3,94.6 86.5,94.4 86.5,100.4 95.4,100.4 95.4,104.7 103.3,104.7 103.3,109.1 112.1,109.1 112.1,113.6 120.7,113.6 120.7,117.7 128.9,117.7 128.9,122.1 137.5,122.1 137.5,126.6 145.7,126.6 145.7,131.0 153.9,131.0 153.9,133.0 163.1,133.0 163.1,134.2 174.0,134.2 174.0,135.7 183.8,135.7 183.8,137.0 189.3,137.0 189.3,139.2 197.0,139.2 197.0,141.2 204.6,141.2 204.6,142.5 213.3,142.5 213.3,143.6 246.0,143.6 246.0,147.3 259.2,147.3" fill="none" stroke="#00BA38" stroke-width="1.5" stroke-linejoin="miter" />
<line x1="90.00" y1="99.20" x2="90.00" y2="101.60" stroke="#00BA38" stroke-width="0.9"/>
<line x1="99.00" y1="103.50" x2="99.00" y2="105.90" stroke="#00BA38" stroke-width="0.9"/>
<line x1="108.00" y1="107.90" x2="108.00" y2="110.30" stroke="#00BA38" stroke-width="0.9"/>
<line x1="116.00" y1="112.40" x2="116.00" y2="114.80" stroke="#00BA38" stroke-width="0.9"/>
<line x1="125.00" y1="116.50" x2="125.00" y2="118.90" stroke="#00BA38" stroke-width="0.9"/>
<line x1="133.00" y1="120.90" x2="133.00" y2="123.30" stroke="#00BA38" stroke-width="0.9"/>
<line x1="141.00" y1="125.40" x2="141.00" y2="127.80" stroke="#00BA38" stroke-width="0.9"/>
<line x1="150.00" y1="129.80" x2="150.00" y2="132.20" stroke="#00BA38" stroke-width="0.9"/>
<line x1="158.00" y1="131.80" x2="158.00" y2="134.20" stroke="#00BA38" stroke-width="0.9"/>
<line x1="163.00" y1="131.80" x2="163.00" y2="134.20" stroke="#00BA38" stroke-width="0.9"/>
<line x1="168.00" y1="133.00" x2="168.00" y2="135.40" stroke="#00BA38" stroke-width="0.9"/>
<line x1="174.00" y1="134.50" x2="174.00" y2="136.90" stroke="#00BA38" stroke-width="0.9"/>
<line x1="179.00" y1="134.50" x2="179.00" y2="136.90" stroke="#00BA38" stroke-width="0.9"/>
<line x1="186.00" y1="135.80" x2="186.00" y2="138.20" stroke="#00BA38" stroke-width="0.9"/>
<line x1="192.00" y1="138.00" x2="192.00" y2="140.40" stroke="#00BA38" stroke-width="0.9"/>
<line x1="200.00" y1="140.00" x2="200.00" y2="142.40" stroke="#00BA38" stroke-width="0.9"/>
<line x1="208.00" y1="141.30" x2="208.00" y2="143.70" stroke="#00BA38" stroke-width="0.9"/>
<line x1="216.00" y1="142.40" x2="216.00" y2="144.80" stroke="#00BA38" stroke-width="0.9"/>
<line x1="222.00" y1="142.40" x2="222.00" y2="144.80" stroke="#00BA38" stroke-width="0.9"/>
<line x1="229.00" y1="142.40" x2="229.00" y2="144.80" stroke="#00BA38" stroke-width="0.9"/>
<line x1="236.00" y1="142.40" x2="236.00" y2="144.80" stroke="#00BA38" stroke-width="0.9"/>
<line x1="243.00" y1="142.40" x2="243.00" y2="144.80" stroke="#00BA38" stroke-width="0.9"/>
<line x1="252.00" y1="146.10" x2="252.00" y2="148.50" stroke="#00BA38" stroke-width="0.9"/>
<line x1="256.00" y1="146.10" x2="256.00" y2="148.50" stroke="#00BA38" stroke-width="0.9"/>
<polyline points="35.3,24.0 42.5,24.0 42.5,46.0 44.2,46.0 44.2,46.3 45.8,46.3 45.8,46.7 47.5,46.7 47.5,47.0 47.5,52.0 51.2,52.0 51.2,58.7 54.9,58.7 54.9,64.6 57.0,64.6 57.0,66.0 57.0,84.3 58.5,84.3 58.5,87.0 60.1,87.0 60.1,89.8 61.6,89.8 61.6,92.5 63.4,92.5 63.4,93.5 65.2,93.5 65.2,94.5 66.9,94.5 66.9,95.5 68.7,95.5 68.7,96.5 70.5,96.5 70.5,98.6 72.3,98.6 72.3,100.7 74.1,100.7 74.1,102.8 75.6,102.8 75.6,104.2 77.1,104.2 77.1,105.6 78.6,105.6 78.6,107.0 80.7,107.0 80.7,110.5 82.9,110.5 82.9,114.0 85.0,114.0 85.0,117.5 86.7,117.5 86.7,118.7 88.3,118.7 88.3,119.8 90.0,119.8 90.0,121.0 92.1,121.0 92.1,121.8 94.2,121.8 94.2,122.6 96.2,122.6 96.2,123.4 98.3,123.4 98.3,124.2 100.4,124.2 100.4,125.0 102.4,125.0 102.4,125.9 104.4,125.9 104.4,126.8 106.4,126.8 106.4,127.7 108.4,127.7 108.4,128.6 110.4,128.6 110.4,129.5 112.6,129.5 112.6,130.6 114.7,130.6 114.7,131.8 116.8,131.8 116.8,132.9 119.0,132.9 119.0,134.0 121.0,134.0 121.0,135.4 122.9,135.4 122.9,136.7 124.9,136.7 124.9,138.1" fill="none" stroke="#00BFC4" stroke-width="1.5" stroke-linejoin="miter" />
<polyline points="35.3,24.0 37.1,24.0 37.1,26.0 39.0,26.0 39.0,28.0 40.5,28.0 40.5,29.5 41.9,29.5 41.9,31.0 43.0,31.0 43.0,42.0 45.0,42.0 45.0,46.5 47.0,46.5 47.0,51.0 49.0,51.0 49.0,55.5 51.0,55.5 51.0,60.0 53.0,60.0 53.0,66.0 55.0,66.0 55.0,72.0 57.0,72.0 57.0,80.0 58.5,80.0 58.5,82.5 60.0,82.5 60.0,84.9 61.8,84.9 61.8,88.1 63.5,88.1 63.5,91.3 65.2,91.3 65.2,94.6 67.0,94.6 67.0,97.8 68.3,97.8 68.3,98.7 69.6,98.7 69.6,99.6 70.7,99.6 70.7,104.2 71.8,104.2 71.8,108.7 73.6,108.7 73.6,109.6 75.4,109.6 75.4,110.5 77.5,110.5 77.5,112.6 79.5,112.6 79.5,114.7 81.6,114.7 81.6,116.8 83.1,116.8 83.1,118.5 84.6,118.5 84.6,120.3 86.1,120.3 86.1,122.0 88.2,122.0 88.2,124.2 90.4,124.2 90.4,126.4 92.5,126.4 92.5,128.6 94.3,128.6 94.3,129.6 96.1,129.6 96.1,130.7 97.8,130.7 97.8,131.7 99.6,131.7 99.6,132.8 101.4,132.8 101.4,133.8 103.6,133.8 103.6,134.3 105.7,134.3 105.7,134.9 107.8,134.9 107.8,135.4 110.0,135.4 110.0,135.9 111.8,135.9 111.8,136.6 113.6,136.6 113.6,137.4 115.4,137.4 115.4,138.1 117.2,138.1 117.2,138.9 119.0,138.9 119.0,139.6 120.8,139.6 120.8,140.6 122.7,140.6 122.7,141.5 124.6,141.5 124.6,142.4 126.4,142.4 126.4,143.4 127.9,143.4 127.9,144.5 129.4,144.5 129.4,145.6 131.3,145.6 131.3,145.8 133.2,145.8 133.2,145.9 135.0,145.9 135.0,146.1 136.9,146.1 136.9,146.3 138.4,145.6 140.1,145.6 140.1,148.2 141.7,148.2 141.7,150.8 143.4,150.8 143.4,153.4 155.2,153.4" fill="none" stroke="#619CFF" stroke-width="1.5" stroke-linejoin="miter" />
<polyline points="35.3,24.0 36.9,24.0 36.9,26.3 38.4,26.3 38.4,28.7 40.0,28.7 40.0,31.0 42.0,31.0 42.0,35.5 44.0,35.5 44.0,40.0 46.0,40.0 46.0,44.0 48.0,44.0 48.0,48.0 49.8,48.0 49.8,52.0 51.7,52.0 51.7,56.0 53.5,56.0 53.5,60.0 55.2,60.0 55.2,64.0 57.0,64.0 57.0,68.0 59.0,68.0 59.0,72.2 61.0,72.2 61.0,76.5 62.6,76.5 62.6,79.0 64.3,79.0 64.3,81.5 66.0,81.5 66.0,84.2 67.7,84.2 67.7,87.0 69.2,87.0 69.2,88.7 70.7,88.7 70.7,90.3 72.2,90.3 72.2,92.0 73.7,92.0 73.7,93.5 75.2,93.5 75.2,95.0 76.7,95.0 76.7,96.5 78.2,96.5 78.2,98.5 79.7,98.5 79.7,100.4 81.2,100.4 81.2,102.4 82.9,102.4 82.9,104.3 84.6,104.3 84.6,106.3 86.4,106.3 86.4,106.5 88.2,106.5 88.2,106.8 89.9,106.8 89.9,107.0 91.7,107.0 91.7,107.3 93.2,107.3 93.2,111.4 95.2,111.4 95.2,112.1 97.2,112.1 97.2,112.8 99.2,112.8 99.2,113.5 100.7,113.5 100.7,116.3 102.2,116.3 102.2,119.2 103.9,119.2 103.9,120.7 105.7,120.7 105.7,122.1 107.4,122.1 107.4,123.6 109.3,123.6 109.3,124.6 111.2,124.6 111.2,125.7 113.0,125.7 113.0,126.8 114.9,126.8 114.9,127.8 117.0,127.8 117.0,128.6 119.2,128.6 119.2,129.4 121.3,129.4 121.3,130.2 123.4,130.2 123.4,131.0 125.2,131.0 125.2,131.7 127.0,131.7 127.0,132.4 128.8,132.4 128.8,133.2 130.6,133.2 130.6,133.9 132.4,133.9 132.4,134.6 134.3,134.6 134.3,135.7 136.2,135.7 136.2,136.7 138.0,136.7 138.0,137.8 139.9,137.8 139.9,138.8 141.8,138.8 141.8,139.4 143.6,139.4 143.6,140.1 145.5,140.1 145.5,140.7 147.3,140.7 147.3,141.3 149.2,141.3 149.2,141.7 151.0,141.7 151.0,142.0 152.9,142.0 152.9,142.4 154.3,142.4 154.3,143.7 155.7,143.7 155.7,145.0 158.5,145.0 158.5,154.0 160.8,154.6" fill="none" stroke="#F564E3" stroke-width="1.5" stroke-linejoin="miter" />
<polyline points="304.5,25.4 306.4,25.4 306.4,26.3 308.2,26.3 308.2,27.2 310.1,27.2 310.1,28.1 312.0,28.1 312.0,29.0 314.0,29.0 314.0,30.8 316.0,30.8 316.0,32.6 318.0,32.6 318.0,34.4 320.0,34.4 320.0,36.2 322.0,36.2 322.0,38.0 324.0,38.0 324.0,39.8 326.0,39.8 326.0,41.6 328.0,41.6 328.0,43.4 330.0,43.4 330.0,45.2 332.0,45.2 332.0,47.0 334.2,47.0 334.2,49.2 336.4,49.2 336.4,51.4 338.6,51.4 338.6,53.6 340.8,53.6 340.8,55.8 343.0,55.8 343.0,58.0 344.8,58.0 344.8,59.8 346.5,59.8 346.5,61.5 348.2,61.5 348.2,63.2 350.0,63.2 350.0,65.0 352.1,65.0 352.1,67.3 354.2,67.3 354.2,69.7 356.4,69.7 356.4,72.1 358.5,72.1 358.5,74.4 360.6,74.4 360.6,76.1 362.8,76.1 362.8,77.7 364.9,77.7 364.9,79.3 367.0,79.3 367.0,81.0 369.0,81.0 369.0,82.0 371.0,82.0 371.0,83.0 373.0,83.0 373.0,84.0 375.0,84.0 375.0,85.0 376.8,85.0 376.8,86.3 378.6,86.3 378.6,87.6 380.3,87.6 380.3,88.9 382.1,88.9 382.1,90.2 383.9,90.2 383.9,91.5 385.8,91.5 385.8,92.3 387.8,92.3 387.8,93.1 389.7,93.1 389.7,93.9 391.7,93.9 391.7,94.7 393.6,94.7 393.6,95.5 395.7,95.5 395.7,96.5 397.9,96.5 397.9,97.5 400.0,97.5 400.0,98.5 401.7,98.5 401.7,99.3 403.4,99.3 403.4,100.0 405.1,100.0 405.1,100.8 406.8,100.8 406.8,101.6 408.4,101.6 408.4,102.0 410.0,102.0 410.0,102.5" fill="none" stroke="#F8766D" stroke-width="1.5" stroke-linejoin="miter" />
<line x1="358.00" y1="70.85" x2="358.00" y2="73.25" stroke="#F8766D" stroke-width="0.9"/>
<line x1="362.00" y1="74.85" x2="362.00" y2="77.25" stroke="#F8766D" stroke-width="0.9"/>
<line x1="366.00" y1="78.15" x2="366.00" y2="80.55" stroke="#F8766D" stroke-width="0.9"/>
<polyline points="304.5,25.4 306.3,25.4 306.3,25.8 308.1,25.8 308.1,26.3 310.0,26.3 310.0,26.8 311.8,26.8 311.8,27.2 313.8,27.2 313.8,29.2 315.9,29.2 315.9,31.1 317.9,31.1 317.9,33.1 320.0,33.1 320.0,35.0 322.0,35.0 322.0,37.0 324.2,37.0 324.2,38.8 326.4,38.8 326.4,40.6 328.6,40.6 328.6,42.4 330.8,42.4 330.8,44.2 333.0,44.2 333.0,46.0 335.1,46.0 335.1,47.9 337.1,47.9 337.1,49.8 339.2,49.8 339.2,51.8 341.3,51.8 341.3,53.7 343.3,53.7 343.3,55.6 345.4,55.6 345.4,57.5 346.9,57.5 346.9,59.6 348.4,59.6 348.4,61.8 350.5,61.8 350.5,63.3 352.6,63.3 352.6,64.8 354.7,64.8 354.7,66.2 356.9,66.2 356.9,67.7 359.0,67.7 359.0,69.2 361.1,69.2 361.1,70.6 363.2,70.6 363.2,72.1 365.3,72.1 365.3,73.6 367.3,73.6 367.3,74.6 369.2,74.6 369.2,75.6 371.2,75.6 371.2,76.5 373.1,76.5 373.1,77.5 375.1,77.5 375.1,78.5 376.8,78.5 376.8,80.2 378.5,80.2 378.5,81.8 380.1,81.8 380.1,83.5 381.8,83.5 381.8,85.2 383.8,85.2 383.8,87.1 385.7,87.1 385.7,89.1 387.7,89.1 387.7,91.0 387.7,98.4 397.3,98.4" fill="none" stroke="#B79F00" stroke-width="1.5" stroke-linejoin="miter" />
<line x1="389.00" y1="97.20" x2="389.00" y2="99.60" stroke="#B79F00" stroke-width="0.9"/>
<line x1="392.00" y1="97.20" x2="392.00" y2="99.60" stroke="#B79F00" stroke-width="0.9"/>
<line x1="395.00" y1="97.20" x2="395.00" y2="99.60" stroke="#B79F00" stroke-width="0.9"/>
<polyline points="304.5,25.4 318.2,25.4 318.2,34.0 321.9,34.0 321.9,38.0 326.0,38.0 326.0,41.5 330.3,41.5 330.3,45.7 336.1,45.7 336.1,50.8 339.5,50.8 339.5,54.0 346.0,54.0 346.0,60.0 349.0,60.0 349.0,61.0 352.0,61.0 352.0,62.0 354.4,62.0 354.4,65.7 356.8,65.7 356.8,69.4 359.4,69.4 359.4,70.7 362.0,70.7 362.0,72.0 364.2,72.0 364.2,74.2 366.4,74.2 366.4,76.4 368.6,76.4 368.6,78.6 370.7,78.6 370.7,79.5 372.9,79.5 372.9,80.4 375.0,80.4 375.0,81.3 382.6,81.3 382.6,85.7 387.7,85.7 387.7,86.4 392.8,86.4 392.8,88.3 396.6,88.3 396.6,89.5 400.4,89.5 400.4,90.8 404.3,90.8 404.3,92.1 408.7,92.1 408.7,94.6 413.2,94.6 413.2,95.9 418.3,95.9 418.3,97.8 423.3,97.8 423.3,99.1 428.4,99.1 428.4,101.0 433.5,101.0 433.5,102.9 438.6,102.9 438.6,105.4 446.2,105.4 446.2,108.7 455.0,108.7 455.0,110.9 462.5,110.9 462.5,113.8 471.0,113.8 471.0,115.7 479.0,115.7 479.0,117.7 487.0,117.7 487.0,119.6 495.6,119.6 495.6,121.4 503.0,121.4 503.0,123.0 510.0,123.0 510.0,124.7 511.0,124.7" fill="none" stroke="#00BA38" stroke-width="1.5" stroke-linejoin="miter" />
<line x1="384.00" y1="84.50" x2="384.00" y2="86.90" stroke="#00BA38" stroke-width="0.9"/>
<line x1="389.00" y1="85.20" x2="389.00" y2="87.60" stroke="#00BA38" stroke-width="0.9"/>
<line x1="394.00" y1="87.10" x2="394.00" y2="89.50" stroke="#00BA38" stroke-width="0.9"/>
<line x1="398.00" y1="88.30" x2="398.00" y2="90.70" stroke="#00BA38" stroke-width="0.9"/>
<line x1="402.00" y1="89.60" x2="402.00" y2="92.00" stroke="#00BA38" stroke-width="0.9"/>
<line x1="406.00" y1="90.90" x2="406.00" y2="93.30" stroke="#00BA38" stroke-width="0.9"/>
<line x1="410.00" y1="93.40" x2="410.00" y2="95.80" stroke="#00BA38" stroke-width="0.9"/>
<line x1="415.00" y1="94.70" x2="415.00" y2="97.10" stroke="#00BA38" stroke-width="0.9"/>
<line x1="420.00" y1="96.60" x2="420.00" y2="99.00" stroke="#00BA38" stroke-width="0.9"/>
<line x1="425.00" y1="97.90" x2="425.00" y2="100.30" stroke="#00BA38" stroke-width="0.9"/>
<line x1="430.00" y1="99.80" x2="430.00" y2="102.20" stroke="#00BA38" stroke-width="0.9"/>
<line x1="435.00" y1="101.70" x2="435.00" y2="104.10" stroke="#00BA38" stroke-width="0.9"/>
<line x1="440.00" y1="104.20" x2="440.00" y2="106.60" stroke="#00BA38" stroke-width="0.9"/>
<line x1="446.00" y1="104.20" x2="446.00" y2="106.60" stroke="#00BA38" stroke-width="0.9"/>
<line x1="451.00" y1="107.50" x2="451.00" y2="109.90" stroke="#00BA38" stroke-width="0.9"/>
<line x1="458.00" y1="109.70" x2="458.00" y2="112.10" stroke="#00BA38" stroke-width="0.9"/>
<line x1="466.00" y1="112.60" x2="466.00" y2="115.00" stroke="#00BA38" stroke-width="0.9"/>
<line x1="475.00" y1="114.50" x2="475.00" y2="116.90" stroke="#00BA38" stroke-width="0.9"/>
<line x1="483.00" y1="116.50" x2="483.00" y2="118.90" stroke="#00BA38" stroke-width="0.9"/>
<line x1="491.00" y1="118.40" x2="491.00" y2="120.80" stroke="#00BA38" stroke-width="0.9"/>
<line x1="499.00" y1="120.20" x2="499.00" y2="122.60" stroke="#00BA38" stroke-width="0.9"/>
<line x1="507.00" y1="121.80" x2="507.00" y2="124.20" stroke="#00BA38" stroke-width="0.9"/>
<line x1="510.00" y1="123.50" x2="510.00" y2="125.90" stroke="#00BA38" stroke-width="0.9"/>
<polyline points="304.5,25.4 306.4,25.4 306.4,26.0 308.2,26.0 308.2,26.7 310.1,26.7 310.1,27.4 312.0,27.4 312.0,28.0 314.0,28.0 314.0,29.9 316.0,29.9 316.0,31.8 318.0,31.8 318.0,33.6 320.0,33.6 320.0,35.5 322.1,35.5 322.1,36.8 324.1,36.8 324.1,38.1 326.2,38.1 326.2,39.4 328.2,39.4 328.2,40.7 330.3,40.7 330.3,42.0 331.9,42.0 331.9,43.8 333.4,43.8 333.4,45.7 335.0,45.7 335.0,47.5 336.7,47.5 336.7,49.3 338.3,49.3 338.3,51.0 340.0,51.0 340.0,52.8 341.9,52.8 341.9,53.9 343.7,53.9 343.7,55.1 345.6,55.1 345.6,56.2 347.5,56.2 347.5,57.3 349.3,57.3 349.3,58.5 351.2,58.5 351.2,59.6 353.1,59.6 353.1,60.4 354.9,60.4 354.9,61.3 356.8,61.3 356.8,62.1 358.7,62.1 358.7,62.9 360.5,62.9 360.5,63.8 362.4,63.8 362.4,64.6 364.4,64.6 364.4,65.3 366.3,65.3 366.3,66.0 368.3,66.0 368.3,66.7 370.2,66.7 370.2,67.4 372.2,67.4 372.2,68.0 374.1,68.0 374.1,68.7 376.1,68.7 376.1,69.4 378.0,69.4 378.0,70.1 380.0,70.1 380.0,70.8 382.1,70.8 382.1,71.3 384.2,71.3 384.2,71.8 386.2,71.8 386.2,72.3 388.3,72.3 388.3,72.8 390.4,72.8 390.4,73.3 392.5,73.3 392.5,73.8 394.3,73.8 394.3,77.3 437.9,77.3" fill="none" stroke="#00BFC4" stroke-width="1.7" stroke-linejoin="miter" />
<line x1="380.00" y1="69.60" x2="380.00" y2="72.00" stroke="#00BFC4" stroke-width="0.9"/>
<line x1="384.00" y1="70.10" x2="384.00" y2="72.50" stroke="#00BFC4" stroke-width="0.9"/>
<line x1="388.00" y1="71.10" x2="388.00" y2="73.50" stroke="#00BFC4" stroke-width="0.9"/>
<line x1="392.00" y1="72.10" x2="392.00" y2="74.50" stroke="#00BFC4" stroke-width="0.9"/>
<line x1="396.00" y1="76.10" x2="396.00" y2="78.50" stroke="#00BFC4" stroke-width="0.9"/>
<line x1="399.30" y1="76.10" x2="399.30" y2="78.50" stroke="#00BFC4" stroke-width="0.9"/>
<line x1="402.60" y1="76.10" x2="402.60" y2="78.50" stroke="#00BFC4" stroke-width="0.9"/>
<line x1="405.90" y1="76.10" x2="405.90" y2="78.50" stroke="#00BFC4" stroke-width="0.9"/>
<line x1="409.20" y1="76.10" x2="409.20" y2="78.50" stroke="#00BFC4" stroke-width="0.9"/>
<line x1="412.50" y1="76.10" x2="412.50" y2="78.50" stroke="#00BFC4" stroke-width="0.9"/>
<line x1="415.80" y1="76.10" x2="415.80" y2="78.50" stroke="#00BFC4" stroke-width="0.9"/>
<line x1="419.10" y1="76.10" x2="419.10" y2="78.50" stroke="#00BFC4" stroke-width="0.9"/>
<line x1="422.40" y1="76.10" x2="422.40" y2="78.50" stroke="#00BFC4" stroke-width="0.9"/>
<line x1="425.70" y1="76.10" x2="425.70" y2="78.50" stroke="#00BFC4" stroke-width="0.9"/>
<line x1="429.00" y1="76.10" x2="429.00" y2="78.50" stroke="#00BFC4" stroke-width="0.9"/>
<line x1="432.30" y1="76.10" x2="432.30" y2="78.50" stroke="#00BFC4" stroke-width="0.9"/>
<line x1="435.60" y1="76.10" x2="435.60" y2="78.50" stroke="#00BFC4" stroke-width="0.9"/>
<polyline points="304.5,25.4 306.3,25.4 306.3,27.4 308.2,27.4 308.2,29.4 310.0,29.4 310.0,31.4 312.0,31.4 312.0,33.6 314.0,33.6 314.0,35.8 316.0,35.8 316.0,38.1 318.0,38.1 318.0,40.3 320.0,40.3 320.0,42.5 321.8,42.5 321.8,44.4 323.5,44.4 323.5,46.2 325.2,46.2 325.2,48.1 327.0,48.1 327.0,50.0 329.0,50.0 329.0,52.4 331.0,52.4 331.0,54.8 333.0,54.8 333.0,57.1 335.0,57.1 335.0,59.5 337.1,59.5 337.1,60.6 339.2,60.6 339.2,61.6 341.3,61.6 341.3,62.7 343.4,62.7 343.4,63.8 345.6,63.8 345.6,65.3 347.7,65.3 347.7,66.8 349.9,66.8 349.9,68.3 352.0,68.3 352.0,69.9 354.2,69.9 354.2,71.4 356.3,71.4 356.3,72.9 358.5,72.9 358.5,74.4 360.4,74.4 360.4,75.5 362.4,75.5 362.4,76.6 364.3,76.6 364.3,77.7 366.2,77.7 366.2,78.7 368.1,78.7 368.1,79.8 370.1,79.8 370.1,80.9 372.0,80.9 372.0,82.0 374.2,82.0 374.2,83.4 376.4,83.4 376.4,84.7 378.6,84.7 378.6,86.1 380.8,86.1 380.8,87.5 383.0,87.5 383.0,88.8 385.2,88.8 385.2,90.2 387.3,90.2 387.3,91.0 389.4,91.0 389.4,91.9 391.5,91.9 391.5,92.8 393.7,92.8 393.7,93.6 395.8,93.6 395.8,94.5 397.9,94.5 397.9,95.3 400.0,95.3 400.0,97.0 402.2,97.0 402.2,98.7 404.3,98.7 404.3,100.4 406.0,100.4 406.0,101.5 407.7,101.5 407.7,102.6 409.4,102.6 409.4,103.7 425.9,103.7" fill="none" stroke="#619CFF" stroke-width="1.5" stroke-linejoin="miter" />
<line x1="412.00" y1="102.50" x2="412.00" y2="104.90" stroke="#619CFF" stroke-width="0.9"/>
<line x1="416.00" y1="102.50" x2="416.00" y2="104.90" stroke="#619CFF" stroke-width="0.9"/>
<line x1="420.00" y1="102.50" x2="420.00" y2="104.90" stroke="#619CFF" stroke-width="0.9"/>
<line x1="424.00" y1="102.50" x2="424.00" y2="104.90" stroke="#619CFF" stroke-width="0.9"/>
<polyline points="304.5,25.4 306.3,25.4 306.3,26.6 308.2,26.6 308.2,27.7 310.0,27.7 310.0,28.9 312.0,28.9 312.0,31.1 314.0,31.1 314.0,33.2 316.0,33.2 316.0,35.4 318.0,35.4 318.0,37.5 320.0,37.5 320.0,39.7 322.0,39.7 322.0,41.7 324.1,41.7 324.1,43.6 326.1,43.6 326.1,45.6 328.1,45.6 328.1,47.5 330.1,47.5 330.1,49.5 332.2,49.5 332.2,51.4 334.2,51.4 334.2,53.4 336.2,53.4 336.2,55.3 338.3,55.3 338.3,57.2 340.3,57.2 340.3,59.2 342.2,59.2 342.2,60.2 344.1,60.2 344.1,61.2 346.1,61.2 346.1,62.2 348.0,62.2 348.0,63.2 349.9,63.2 349.9,64.2 351.8,64.2 351.8,65.2 353.9,65.2 353.9,66.3 355.9,66.3 355.9,67.4 358.0,67.4 358.0,68.6 360.0,68.6 360.0,69.7 362.1,69.7 362.1,70.8 364.1,70.8 364.1,71.9 366.2,71.9 366.2,73.1 368.2,73.1 368.2,74.2 370.3,74.2 370.3,75.3 372.1,75.3 372.1,76.1 374.0,76.1 374.0,76.9 375.9,76.9 375.9,77.7 377.7,77.7 377.7,78.4 379.5,78.4 379.5,79.2 381.4,79.2 381.4,80.0 383.2,80.0 383.2,80.8 385.0,80.8 385.0,81.5 386.7,81.5 386.7,82.3 388.5,82.3 388.5,83.0 390.3,83.0 390.3,83.8 392.2,83.8 392.2,84.5 394.1,84.5 394.1,85.1 396.0,85.1 396.0,85.8 397.9,85.8 397.9,86.4 399.8,86.4 399.8,91.5 401.7,91.5 401.7,93.6 403.6,93.6 403.6,95.7 405.5,95.7 405.5,97.8 407.6,97.8 407.6,99.1 409.8,99.1 409.8,100.3 411.9,100.3 411.9,101.6" fill="none" stroke="#F564E3" stroke-width="1.5" stroke-linejoin="miter" />
<text transform="translate(72.10,34.05) scale(1.0,1.08)" font-size="5.3" text-anchor="start" font-weight="bold" fill="#111" stroke="#111" stroke-width="0.1">Motzer et al. 2021</text>
<text transform="translate(111.00,73.55) scale(1.0,1.08)" font-size="5.3" text-anchor="start" font-weight="bold" fill="#111" stroke="#111" stroke-width="0.1">Powles et al. 2020</text>
<text transform="translate(27.10,137.65) scale(1.0,1.08)" font-size="5.3" text-anchor="start" font-weight="bold" fill="#111" stroke="#111" stroke-width="0.1">Choueiri et al. 2020</text>
<text transform="translate(95.40,165.65) scale(1.0,1.08)" font-size="5.3" text-anchor="start" font-weight="bold" fill="#111" stroke="#111" stroke-width="0.1">Rini et al. 2021</text>
<text transform="translate(166.00,169.35) scale(1.0,1.08)" font-size="5.3" text-anchor="start" font-weight="bold" fill="#111" stroke="#111" stroke-width="0.1">Motzer et al. 2022</text>
<text transform="translate(201.50,136.85) scale(1.0,1.08)" font-size="5.3" text-anchor="start" font-weight="bold" fill="#111" stroke="#111" stroke-width="0.1">Motzer et al. 2022</text>
<line x1="97.30" y1="42.70" x2="97.78" y2="117.00" stroke="#6a6a6a" stroke-width="0.75"/>
<polygon points="97.80,119.90 96.08,116.51 99.48,116.49" fill="#111"/>
<line x1="129.50" y1="75.80" x2="106.20" y2="111.18" stroke="#6a6a6a" stroke-width="0.75"/>
<polygon points="104.60,113.60 105.05,109.83 107.89,111.70" fill="#111"/>
<line x1="42.80" y1="130.30" x2="49.07" y2="75.68" stroke="#6a6a6a" stroke-width="0.75"/>
<polygon points="49.40,72.80 50.70,76.37 47.32,75.98" fill="#111"/>
<line x1="121.80" y1="158.20" x2="121.80" y2="150.70" stroke="#6a6a6a" stroke-width="0.75"/>
<polygon points="121.80,147.80 123.50,151.20 120.10,151.20" fill="#111"/>
<line x1="160.80" y1="167.40" x2="151.71" y2="158.79" stroke="#6a6a6a" stroke-width="0.75"/>
<polygon points="149.60,156.80 153.24,157.90 150.90,160.37" fill="#111"/>
<text transform="translate(385.80,37.05) scale(1.0,1.08)" font-size="5.3" text-anchor="start" font-weight="bold" fill="#111" stroke="#111" stroke-width="0.1">Powles et al. 2020</text>
<text transform="translate(410.90,72.05) scale(1.0,1.08)" font-size="5.3" text-anchor="start" font-weight="bold" fill="#111" stroke="#111" stroke-width="0.1">Motzer et al. 2021</text>
<text transform="translate(467.10,108.35) scale(1.0,1.08)" font-size="5.3" text-anchor="start" font-weight="bold" fill="#111" stroke="#111" stroke-width="0.1">Motzer et al. 2022</text>
<text transform="translate(308.70,118.15) scale(1.0,1.08)" font-size="5.3" text-anchor="start" font-weight="bold" fill="#111" stroke="#111" stroke-width="0.1">Rini et al. 2021</text>
<text transform="translate(365.80,125.15) scale(1.0,1.08)" font-size="5.3" text-anchor="start" font-weight="bold" fill="#111" stroke="#111" stroke-width="0.1">Choueiri et al. 2020</text>
<text transform="translate(428.10,149.65) scale(1.0,1.08)" font-size="5.3" text-anchor="start" font-weight="bold" fill="#111" stroke="#111" stroke-width="0.1">Motzer et al. 2022</text>
<line x1="417.10" y1="42.50" x2="393.91" y2="77.09" stroke="#6a6a6a" stroke-width="0.75"/>
<polygon points="392.30,79.50 392.78,75.73 395.61,77.62" fill="#111"/>
<line x1="344.40" y1="107.10" x2="360.28" y2="85.54" stroke="#6a6a6a" stroke-width="0.75"/>
<polygon points="362.00,83.20 361.35,86.95 358.62,84.93" fill="#111"/>
<line x1="391.20" y1="116.90" x2="391.20" y2="105.80" stroke="#6a6a6a" stroke-width="0.75"/>
<polygon points="391.20,102.90 392.90,106.30 389.50,106.30" fill="#111"/>
<line x1="453.20" y1="142.00" x2="427.60" y2="109.77" stroke="#6a6a6a" stroke-width="0.75"/>
<polygon points="425.80,107.50 429.25,109.11 426.58,111.22" fill="#111"/>
</svg></body></html>
